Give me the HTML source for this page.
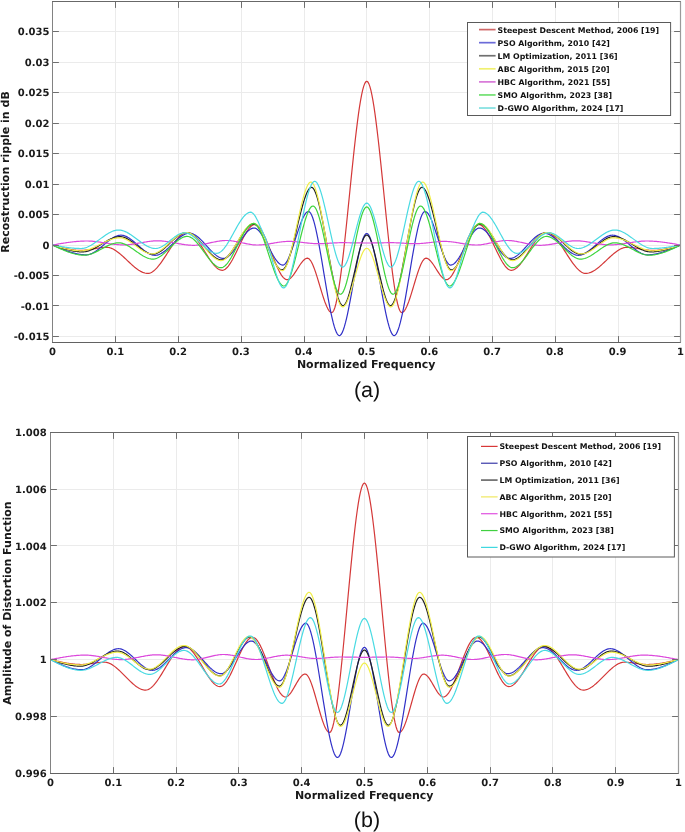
<!DOCTYPE html>
<html><head><meta charset="utf-8"><title>Reconstruction ripple and distortion function</title>
<style>
html,body{margin:0;padding:0;background:#fff;}
body{width:685px;height:832px;overflow:hidden;}
svg{display:block;}
text{text-rendering:geometricPrecision;}
.tk{font-family:'DejaVu Sans', 'Liberation Sans', sans-serif;font-weight:bold;font-size:10px;fill:#1a1a1a;}
.lb{font-family:'DejaVu Sans', 'Liberation Sans', sans-serif;font-weight:bold;font-size:11px;fill:#1a1a1a;}
.lg{font-family:'DejaVu Sans', 'Liberation Sans', sans-serif;font-weight:bold;font-size:7.8px;fill:#111;}
.cap{font-family:'Liberation Sans',Arial,sans-serif;font-size:21.5px;fill:#111;}
</style></head><body>
<svg width="685" height="832" viewBox="0 0 685 832">
<rect width="685" height="832" fill="#fff"/>
<path d="M115.5,1.5V342.5M178.5,1.5V342.5M241.5,1.5V342.5M304.5,1.5V342.5M366.5,1.5V342.5M429.5,1.5V342.5M492.5,1.5V342.5M555.5,1.5V342.5M618.5,1.5V342.5M52.5,31.5H680.5M52.5,62.5H680.5M52.5,92.5H680.5M52.5,123.5H680.5M52.5,153.5H680.5M52.5,184.5H680.5M52.5,214.5H680.5M52.5,245.5H680.5M52.5,275.5H680.5M52.5,305.5H680.5M52.5,336.5H680.5" stroke="#ebebeb" stroke-width="1" fill="none"/>
<path d="M52.50,245.00 L53.52,245.29 L54.54,245.58 L55.55,245.86 L56.57,246.15 L57.59,246.43 L58.61,246.71 L59.62,246.98 L60.64,247.25 L61.66,247.51 L62.68,247.77 L63.70,248.02 L64.71,248.26 L65.73,248.49 L66.75,248.71 L67.77,248.92 L68.79,249.12 L69.80,249.31 L70.82,249.49 L71.84,249.65 L72.86,249.80 L73.88,249.94 L74.89,250.05 L75.91,250.16 L76.93,250.24 L77.95,250.31 L78.96,250.36 L79.98,250.39 L81.00,250.40 L82.02,250.39 L83.04,250.34 L84.06,250.28 L85.08,250.19 L86.10,250.08 L87.12,249.95 L88.14,249.81 L89.16,249.65 L90.18,249.48 L91.20,249.31 L92.22,249.13 L93.24,248.94 L94.26,248.76 L95.28,248.57 L96.30,248.39 L97.32,248.22 L98.34,248.05 L99.36,247.89 L100.38,247.75 L101.40,247.62 L102.42,247.51 L103.44,247.42 L104.46,247.36 L105.48,247.31 L106.50,247.30 L107.51,247.35 L108.51,247.48 L109.52,247.70 L110.53,248.00 L111.54,248.37 L112.54,248.81 L113.55,249.32 L114.56,249.89 L115.57,250.52 L116.57,251.20 L117.58,251.93 L118.59,252.70 L119.60,253.51 L120.60,254.35 L121.61,255.22 L122.62,256.12 L123.62,257.04 L124.63,257.97 L125.64,258.92 L126.65,259.87 L127.65,260.83 L128.66,261.78 L129.67,262.73 L130.68,263.66 L131.68,264.58 L132.69,265.48 L133.70,266.35 L134.70,267.19 L135.71,268.00 L136.72,268.77 L137.73,269.50 L138.73,270.18 L139.74,270.81 L140.75,271.38 L141.76,271.89 L142.76,272.33 L143.77,272.70 L144.78,273.00 L145.79,273.22 L146.79,273.35 L147.80,273.40 L148.81,273.32 L149.82,273.09 L150.83,272.71 L151.84,272.20 L152.85,271.56 L153.86,270.79 L154.87,269.92 L155.88,268.94 L156.89,267.87 L157.90,266.71 L158.91,265.47 L159.92,264.17 L160.93,262.80 L161.94,261.37 L162.95,259.90 L163.96,258.40 L164.97,256.86 L165.98,255.30 L166.99,253.74 L168.01,252.16 L169.02,250.60 L170.03,249.04 L171.04,247.50 L172.05,246.00 L173.06,244.53 L174.07,243.10 L175.08,241.73 L176.09,240.43 L177.10,239.19 L178.11,238.03 L179.12,236.96 L180.13,235.98 L181.14,235.11 L182.15,234.34 L183.16,233.70 L184.17,233.19 L185.18,232.81 L186.19,232.58 L187.20,232.50 L188.20,232.59 L189.20,232.86 L190.20,233.29 L191.20,233.87 L192.20,234.59 L193.20,235.45 L194.20,236.43 L195.20,237.52 L196.20,238.71 L197.20,239.99 L198.20,241.35 L199.20,242.78 L200.20,244.27 L201.20,245.81 L202.20,247.38 L203.20,248.98 L204.20,250.59 L205.20,252.21 L206.20,253.82 L207.20,255.42 L208.20,256.99 L209.20,258.53 L210.20,260.02 L211.20,261.45 L212.20,262.81 L213.20,264.09 L214.20,265.28 L215.20,266.37 L216.20,267.35 L217.20,268.21 L218.20,268.93 L219.20,269.51 L220.20,269.94 L221.20,270.21 L222.20,270.30 L223.22,270.17 L224.24,269.79 L225.27,269.17 L226.29,268.33 L227.31,267.29 L228.33,266.07 L229.35,264.68 L230.38,263.14 L231.40,261.47 L232.42,259.68 L233.44,257.78 L234.46,255.81 L235.48,253.77 L236.51,251.67 L237.53,249.54 L238.55,247.40 L239.57,245.26 L240.59,243.13 L241.62,241.03 L242.64,238.99 L243.66,237.02 L244.68,235.12 L245.70,233.33 L246.72,231.66 L247.75,230.12 L248.77,228.73 L249.79,227.51 L250.81,226.47 L251.83,225.63 L252.86,225.01 L253.88,224.63 L254.90,224.50 L255.91,224.66 L256.92,225.12 L257.93,225.86 L258.94,226.87 L259.95,228.12 L260.96,229.59 L261.97,231.27 L262.98,233.12 L263.98,235.14 L264.99,237.30 L266.00,239.58 L267.01,241.97 L268.02,244.43 L269.03,246.95 L270.04,249.52 L271.05,252.10 L272.06,254.68 L273.07,257.25 L274.08,259.77 L275.09,262.23 L276.10,264.62 L277.11,266.90 L278.12,269.06 L279.12,271.07 L280.13,272.93 L281.14,274.61 L282.15,276.08 L283.16,277.33 L284.17,278.34 L285.18,279.08 L286.19,279.54 L287.20,279.70 L288.21,279.54 L289.23,279.10 L290.25,278.39 L291.26,277.46 L292.27,276.34 L293.29,275.06 L294.31,273.64 L295.32,272.13 L296.33,270.56 L297.35,268.95 L298.37,267.34 L299.38,265.77 L300.39,264.26 L301.41,262.84 L302.43,261.56 L303.44,260.44 L304.45,259.51 L305.47,258.80 L306.49,258.36 L307.50,258.20 L308.51,258.48 L309.52,259.27 L310.54,260.54 L311.55,262.23 L312.56,264.30 L313.57,266.70 L314.59,269.38 L315.60,272.30 L316.61,275.41 L317.62,278.66 L318.64,282.01 L319.65,285.40 L320.66,288.79 L321.68,292.14 L322.69,295.39 L323.70,298.50 L324.71,301.42 L325.73,304.10 L326.74,306.50 L327.75,308.57 L328.76,310.26 L329.78,311.53 L330.79,312.32 L331.80,312.60 L332.83,312.01 L333.86,310.29 L334.88,307.52 L335.91,303.75 L336.94,299.06 L337.97,293.53 L339.00,287.22 L340.02,280.21 L341.05,272.56 L342.08,264.34 L343.11,255.63 L344.14,246.50 L345.16,237.01 L346.19,227.25 L347.22,217.26 L348.25,207.14 L349.27,196.95 L350.30,186.76 L351.33,176.64 L352.36,166.65 L353.39,156.89 L354.41,147.40 L355.44,138.27 L356.47,129.56 L357.50,121.34 L358.53,113.69 L359.55,106.68 L360.58,100.37 L361.61,94.84 L362.64,90.15 L363.67,86.38 L364.69,83.61 L365.72,81.89 L366.75,81.30 L367.78,81.89 L368.81,83.61 L369.83,86.38 L370.86,90.15 L371.89,94.84 L372.92,100.37 L373.95,106.68 L374.97,113.69 L376.00,121.34 L377.03,129.56 L378.06,138.27 L379.09,147.40 L380.11,156.89 L381.14,166.65 L382.17,176.64 L383.20,186.76 L384.23,196.95 L385.25,207.14 L386.28,217.26 L387.31,227.25 L388.34,237.01 L389.36,246.50 L390.39,255.63 L391.42,264.34 L392.45,272.56 L393.48,280.21 L394.50,287.22 L395.53,293.53 L396.56,299.06 L397.59,303.75 L398.62,307.52 L399.64,310.29 L400.67,312.01 L401.70,312.60 L402.71,312.32 L403.72,311.53 L404.74,310.26 L405.75,308.57 L406.76,306.50 L407.77,304.10 L408.79,301.42 L409.80,298.50 L410.81,295.39 L411.82,292.14 L412.84,288.79 L413.85,285.40 L414.86,282.01 L415.88,278.66 L416.89,275.41 L417.90,272.30 L418.91,269.38 L419.93,266.70 L420.94,264.30 L421.95,262.23 L422.96,260.54 L423.98,259.27 L424.99,258.48 L426.00,258.20 L427.01,258.36 L428.03,258.80 L429.05,259.51 L430.06,260.44 L431.07,261.56 L432.09,262.84 L433.11,264.26 L434.12,265.77 L435.13,267.34 L436.15,268.95 L437.17,270.56 L438.18,272.13 L439.19,273.64 L440.21,275.06 L441.23,276.34 L442.24,277.46 L443.25,278.39 L444.27,279.10 L445.29,279.54 L446.30,279.70 L447.31,279.54 L448.32,279.08 L449.33,278.34 L450.34,277.33 L451.35,276.08 L452.36,274.61 L453.37,272.93 L454.38,271.07 L455.38,269.06 L456.39,266.90 L457.40,264.62 L458.41,262.23 L459.42,259.77 L460.43,257.25 L461.44,254.68 L462.45,252.10 L463.46,249.52 L464.47,246.95 L465.48,244.43 L466.49,241.97 L467.50,239.58 L468.51,237.30 L469.52,235.14 L470.53,233.12 L471.53,231.27 L472.54,229.59 L473.55,228.12 L474.56,226.87 L475.57,225.86 L476.58,225.12 L477.59,224.66 L478.60,224.50 L479.62,224.63 L480.64,225.01 L481.67,225.63 L482.69,226.47 L483.71,227.51 L484.73,228.73 L485.75,230.12 L486.78,231.66 L487.80,233.33 L488.82,235.12 L489.84,237.02 L490.86,238.99 L491.88,241.03 L492.91,243.13 L493.93,245.26 L494.95,247.40 L495.97,249.54 L496.99,251.67 L498.02,253.77 L499.04,255.81 L500.06,257.78 L501.08,259.68 L502.10,261.47 L503.12,263.14 L504.15,264.68 L505.17,266.07 L506.19,267.29 L507.21,268.33 L508.23,269.17 L509.26,269.79 L510.28,270.17 L511.30,270.30 L512.33,270.20 L513.36,269.92 L514.39,269.47 L515.42,268.85 L516.45,268.09 L517.48,267.18 L518.51,266.15 L519.54,265.01 L520.56,263.76 L521.59,262.41 L522.62,260.99 L523.65,259.50 L524.68,257.95 L525.71,256.35 L526.74,254.72 L527.77,253.07 L528.80,251.40 L529.83,249.73 L530.86,248.08 L531.89,246.45 L532.92,244.85 L533.95,243.30 L534.98,241.81 L536.01,240.39 L537.04,239.04 L538.06,237.79 L539.09,236.65 L540.12,235.62 L541.15,234.71 L542.18,233.95 L543.21,233.33 L544.24,232.88 L545.27,232.60 L546.30,232.50 L547.31,232.58 L548.32,232.81 L549.33,233.19 L550.34,233.70 L551.35,234.34 L552.36,235.11 L553.37,235.98 L554.38,236.96 L555.39,238.03 L556.40,239.19 L557.41,240.43 L558.42,241.73 L559.43,243.10 L560.44,244.53 L561.45,246.00 L562.46,247.50 L563.47,249.04 L564.48,250.60 L565.49,252.16 L566.51,253.74 L567.52,255.30 L568.53,256.86 L569.54,258.40 L570.55,259.90 L571.56,261.37 L572.57,262.80 L573.58,264.17 L574.59,265.47 L575.60,266.71 L576.61,267.87 L577.62,268.94 L578.63,269.92 L579.64,270.79 L580.65,271.56 L581.66,272.20 L582.67,272.71 L583.68,273.09 L584.69,273.32 L585.70,273.40 L586.71,273.35 L587.71,273.22 L588.72,273.00 L589.73,272.70 L590.74,272.33 L591.74,271.89 L592.75,271.38 L593.76,270.81 L594.77,270.18 L595.77,269.50 L596.78,268.77 L597.79,268.00 L598.80,267.19 L599.80,266.35 L600.81,265.48 L601.82,264.58 L602.82,263.66 L603.83,262.73 L604.84,261.78 L605.85,260.83 L606.85,259.87 L607.86,258.92 L608.87,257.97 L609.88,257.04 L610.88,256.12 L611.89,255.22 L612.90,254.35 L613.90,253.51 L614.91,252.70 L615.92,251.93 L616.93,251.20 L617.93,250.52 L618.94,249.89 L619.95,249.32 L620.96,248.81 L621.96,248.37 L622.97,248.00 L623.98,247.70 L624.99,247.48 L625.99,247.35 L627.00,247.30 L628.02,247.31 L629.04,247.36 L630.06,247.42 L631.08,247.51 L632.10,247.62 L633.12,247.75 L634.14,247.89 L635.16,248.05 L636.18,248.22 L637.20,248.39 L638.22,248.57 L639.24,248.76 L640.26,248.94 L641.28,249.13 L642.30,249.31 L643.32,249.48 L644.34,249.65 L645.36,249.81 L646.38,249.95 L647.40,250.08 L648.42,250.19 L649.44,250.28 L650.46,250.34 L651.48,250.39 L652.50,250.40 L653.50,250.39 L654.51,250.36 L655.51,250.31 L656.51,250.24 L657.52,250.16 L658.52,250.05 L659.52,249.94 L660.53,249.80 L661.53,249.65 L662.54,249.49 L663.54,249.31 L664.54,249.12 L665.55,248.92 L666.55,248.71 L667.55,248.49 L668.56,248.26 L669.56,248.02 L670.56,247.77 L671.57,247.51 L672.57,247.25 L673.58,246.98 L674.58,246.71 L675.58,246.43 L676.59,246.15 L677.59,245.86 L678.59,245.58 L679.60,245.29 L680.60,245.00" stroke="#d43838" stroke-width="1.2" fill="none" stroke-linejoin="round"/>
<path d="M52.50,245.00 L53.52,245.45 L54.54,245.89 L55.56,246.33 L56.58,246.77 L57.61,247.21 L58.63,247.64 L59.65,248.07 L60.67,248.49 L61.69,248.91 L62.71,249.32 L63.73,249.72 L64.75,250.11 L65.78,250.49 L66.80,250.86 L67.82,251.22 L68.84,251.57 L69.86,251.90 L70.88,252.22 L71.90,252.53 L72.92,252.82 L73.95,253.09 L74.97,253.35 L75.99,253.59 L77.01,253.81 L78.03,254.01 L79.05,254.19 L80.07,254.34 L81.09,254.48 L82.12,254.59 L83.14,254.68 L84.16,254.75 L85.18,254.79 L86.20,254.80 L87.22,254.75 L88.25,254.60 L89.27,254.37 L90.29,254.05 L91.32,253.65 L92.34,253.18 L93.36,252.65 L94.39,252.06 L95.41,251.41 L96.44,250.71 L97.46,249.97 L98.48,249.20 L99.51,248.39 L100.53,247.57 L101.55,246.72 L102.58,245.86 L103.60,245.00 L104.62,244.14 L105.65,243.28 L106.67,242.43 L107.69,241.61 L108.72,240.80 L109.74,240.03 L110.76,239.29 L111.79,238.59 L112.81,237.94 L113.84,237.35 L114.86,236.82 L115.88,236.35 L116.91,235.95 L117.93,235.63 L118.95,235.40 L119.98,235.25 L121.00,235.20 L122.00,235.25 L123.00,235.40 L124.00,235.64 L125.00,235.97 L126.00,236.38 L127.00,236.86 L128.00,237.41 L129.00,238.01 L130.00,238.68 L131.00,239.39 L132.00,240.15 L133.00,240.94 L134.00,241.77 L135.00,242.62 L136.00,243.48 L137.00,244.36 L138.00,245.25 L139.00,246.14 L140.00,247.02 L141.00,247.88 L142.00,248.73 L143.00,249.56 L144.00,250.35 L145.00,251.11 L146.00,251.82 L147.00,252.49 L148.00,253.09 L149.00,253.64 L150.00,254.12 L151.00,254.53 L152.00,254.86 L153.00,255.10 L154.00,255.25 L155.00,255.30 L156.01,255.24 L157.03,255.08 L158.04,254.81 L159.06,254.45 L160.07,254.01 L161.09,253.48 L162.10,252.88 L163.12,252.21 L164.13,251.47 L165.15,250.69 L166.16,249.86 L167.18,248.98 L168.19,248.08 L169.21,247.14 L170.22,246.19 L171.24,245.22 L172.25,244.25 L173.26,243.28 L174.28,242.31 L175.29,241.36 L176.31,240.42 L177.32,239.52 L178.34,238.64 L179.35,237.81 L180.37,237.03 L181.38,236.29 L182.40,235.62 L183.41,235.02 L184.43,234.49 L185.44,234.05 L186.46,233.69 L187.47,233.42 L188.49,233.26 L189.50,233.20 L190.50,233.26 L191.51,233.45 L192.51,233.75 L193.51,234.16 L194.51,234.67 L195.52,235.28 L196.52,235.96 L197.52,236.73 L198.53,237.56 L199.53,238.46 L200.53,239.41 L201.54,240.40 L202.54,241.44 L203.54,242.50 L204.54,243.59 L205.55,244.69 L206.55,245.80 L207.55,246.91 L208.56,248.01 L209.56,249.10 L210.56,250.16 L211.56,251.20 L212.57,252.19 L213.57,253.14 L214.57,254.04 L215.58,254.87 L216.58,255.64 L217.58,256.32 L218.59,256.93 L219.59,257.44 L220.59,257.85 L221.59,258.15 L222.60,258.34 L223.60,258.40 L224.61,258.30 L225.63,258.01 L226.64,257.55 L227.65,256.92 L228.67,256.15 L229.68,255.24 L230.69,254.21 L231.71,253.07 L232.72,251.83 L233.73,250.52 L234.75,249.14 L235.76,247.70 L236.77,246.22 L237.79,244.72 L238.80,243.20 L239.81,241.68 L240.83,240.18 L241.84,238.70 L242.85,237.26 L243.87,235.88 L244.88,234.57 L245.89,233.33 L246.91,232.19 L247.92,231.16 L248.93,230.25 L249.95,229.48 L250.96,228.85 L251.97,228.39 L252.99,228.10 L254.00,228.00 L255.03,228.14 L256.06,228.54 L257.09,229.19 L258.11,230.06 L259.14,231.13 L260.17,232.38 L261.20,233.80 L262.23,235.36 L263.26,237.04 L264.29,238.82 L265.31,240.68 L266.34,242.60 L267.37,244.57 L268.40,246.55 L269.43,248.53 L270.46,250.50 L271.49,252.42 L272.51,254.28 L273.54,256.06 L274.57,257.74 L275.60,259.30 L276.63,260.72 L277.66,261.97 L278.69,263.04 L279.71,263.91 L280.74,264.56 L281.77,264.96 L282.80,265.10 L283.83,264.85 L284.86,264.13 L285.88,262.97 L286.91,261.42 L287.94,259.53 L288.97,257.32 L290.00,254.85 L291.02,252.15 L292.05,249.26 L293.08,246.23 L294.11,243.10 L295.14,239.91 L296.16,236.69 L297.19,233.50 L298.22,230.37 L299.25,227.34 L300.28,224.45 L301.30,221.75 L302.33,219.28 L303.36,217.07 L304.39,215.18 L305.42,213.63 L306.44,212.47 L307.47,211.75 L308.50,211.50 L309.53,211.90 L310.56,213.08 L311.59,214.97 L312.62,217.53 L313.65,220.69 L314.68,224.41 L315.71,228.62 L316.74,233.27 L317.77,238.31 L318.80,243.67 L319.83,249.32 L320.86,255.18 L321.89,261.21 L322.92,267.35 L323.95,273.55 L324.98,279.75 L326.01,285.89 L327.04,291.92 L328.07,297.78 L329.10,303.43 L330.13,308.79 L331.16,313.83 L332.19,318.48 L333.22,322.69 L334.25,326.41 L335.28,329.57 L336.31,332.13 L337.34,334.02 L338.37,335.20 L339.40,335.60 L340.41,335.19 L341.43,334.00 L342.44,332.10 L343.45,329.54 L344.46,326.39 L345.48,322.71 L346.49,318.57 L347.50,314.02 L348.52,309.13 L349.53,303.96 L350.54,298.57 L351.56,293.02 L352.57,287.38 L353.58,281.72 L354.59,276.08 L355.61,270.53 L356.62,265.14 L357.63,259.97 L358.65,255.08 L359.66,250.53 L360.67,246.39 L361.69,242.71 L362.70,239.56 L363.71,237.00 L364.72,235.10 L365.74,233.91 L366.75,233.50 L367.76,233.91 L368.78,235.10 L369.79,237.00 L370.80,239.56 L371.81,242.71 L372.83,246.39 L373.84,250.53 L374.85,255.08 L375.87,259.97 L376.88,265.14 L377.89,270.53 L378.91,276.08 L379.92,281.72 L380.93,287.38 L381.94,293.02 L382.96,298.57 L383.97,303.96 L384.98,309.13 L386.00,314.02 L387.01,318.57 L388.02,322.71 L389.04,326.39 L390.05,329.54 L391.06,332.10 L392.07,334.00 L393.09,335.19 L394.10,335.60 L395.13,335.20 L396.16,334.02 L397.19,332.13 L398.22,329.57 L399.25,326.41 L400.28,322.69 L401.31,318.48 L402.34,313.83 L403.37,308.79 L404.40,303.43 L405.43,297.78 L406.46,291.92 L407.49,285.89 L408.52,279.75 L409.55,273.55 L410.58,267.35 L411.61,261.21 L412.64,255.18 L413.67,249.32 L414.70,243.67 L415.73,238.31 L416.76,233.27 L417.79,228.62 L418.82,224.41 L419.85,220.69 L420.88,217.53 L421.91,214.97 L422.94,213.08 L423.97,211.90 L425.00,211.50 L426.03,211.75 L427.06,212.47 L428.08,213.63 L429.11,215.18 L430.14,217.07 L431.17,219.28 L432.20,221.75 L433.22,224.45 L434.25,227.34 L435.28,230.37 L436.31,233.50 L437.34,236.69 L438.36,239.91 L439.39,243.10 L440.42,246.23 L441.45,249.26 L442.48,252.15 L443.50,254.85 L444.53,257.32 L445.56,259.53 L446.59,261.42 L447.62,262.97 L448.64,264.13 L449.67,264.85 L450.70,265.10 L451.73,264.96 L452.76,264.56 L453.79,263.91 L454.81,263.04 L455.84,261.97 L456.87,260.72 L457.90,259.30 L458.93,257.74 L459.96,256.06 L460.99,254.28 L462.01,252.42 L463.04,250.50 L464.07,248.53 L465.10,246.55 L466.13,244.57 L467.16,242.60 L468.19,240.68 L469.21,238.82 L470.24,237.04 L471.27,235.36 L472.30,233.80 L473.33,232.38 L474.36,231.13 L475.39,230.06 L476.41,229.19 L477.44,228.54 L478.47,228.14 L479.50,228.00 L480.51,228.10 L481.53,228.39 L482.54,228.85 L483.55,229.48 L484.57,230.25 L485.58,231.16 L486.59,232.19 L487.61,233.33 L488.62,234.57 L489.63,235.88 L490.65,237.26 L491.66,238.70 L492.67,240.18 L493.69,241.68 L494.70,243.20 L495.71,244.72 L496.73,246.22 L497.74,247.70 L498.75,249.14 L499.77,250.52 L500.78,251.83 L501.79,253.07 L502.81,254.21 L503.82,255.24 L504.83,256.15 L505.85,256.92 L506.86,257.55 L507.87,258.01 L508.89,258.30 L509.90,258.40 L510.90,258.34 L511.91,258.15 L512.91,257.85 L513.91,257.44 L514.91,256.93 L515.92,256.32 L516.92,255.64 L517.92,254.87 L518.93,254.04 L519.93,253.14 L520.93,252.19 L521.94,251.20 L522.94,250.16 L523.94,249.10 L524.94,248.01 L525.95,246.91 L526.95,245.80 L527.95,244.69 L528.96,243.59 L529.96,242.50 L530.96,241.44 L531.96,240.40 L532.97,239.41 L533.97,238.46 L534.97,237.56 L535.98,236.73 L536.98,235.96 L537.98,235.28 L538.99,234.67 L539.99,234.16 L540.99,233.75 L541.99,233.45 L543.00,233.26 L544.00,233.20 L545.01,233.26 L546.03,233.42 L547.04,233.69 L548.06,234.05 L549.07,234.49 L550.09,235.02 L551.10,235.62 L552.12,236.29 L553.13,237.03 L554.15,237.81 L555.16,238.64 L556.18,239.52 L557.19,240.42 L558.21,241.36 L559.22,242.31 L560.24,243.28 L561.25,244.25 L562.26,245.22 L563.28,246.19 L564.29,247.14 L565.31,248.08 L566.32,248.98 L567.34,249.86 L568.35,250.69 L569.37,251.47 L570.38,252.21 L571.40,252.88 L572.41,253.48 L573.43,254.01 L574.44,254.45 L575.46,254.81 L576.47,255.08 L577.49,255.24 L578.50,255.30 L579.50,255.25 L580.50,255.10 L581.50,254.86 L582.50,254.53 L583.50,254.12 L584.50,253.64 L585.50,253.09 L586.50,252.49 L587.50,251.82 L588.50,251.11 L589.50,250.35 L590.50,249.56 L591.50,248.73 L592.50,247.88 L593.50,247.02 L594.50,246.14 L595.50,245.25 L596.50,244.36 L597.50,243.48 L598.50,242.62 L599.50,241.77 L600.50,240.94 L601.50,240.15 L602.50,239.39 L603.50,238.68 L604.50,238.01 L605.50,237.41 L606.50,236.86 L607.50,236.38 L608.50,235.97 L609.50,235.64 L610.50,235.40 L611.50,235.25 L612.50,235.20 L613.52,235.25 L614.55,235.40 L615.57,235.63 L616.59,235.95 L617.62,236.35 L618.64,236.82 L619.66,237.35 L620.69,237.94 L621.71,238.59 L622.74,239.29 L623.76,240.03 L624.78,240.80 L625.81,241.61 L626.83,242.43 L627.85,243.28 L628.88,244.14 L629.90,245.00 L630.92,245.86 L631.95,246.72 L632.97,247.57 L633.99,248.39 L635.02,249.20 L636.04,249.97 L637.06,250.71 L638.09,251.41 L639.11,252.06 L640.14,252.65 L641.16,253.18 L642.18,253.65 L643.21,254.05 L644.23,254.37 L645.25,254.60 L646.28,254.75 L647.30,254.80 L648.31,254.79 L649.32,254.75 L650.33,254.68 L651.34,254.59 L652.35,254.48 L653.35,254.34 L654.36,254.19 L655.37,254.01 L656.38,253.81 L657.39,253.59 L658.40,253.35 L659.41,253.09 L660.42,252.82 L661.43,252.53 L662.44,252.22 L663.45,251.90 L664.45,251.57 L665.46,251.22 L666.47,250.86 L667.48,250.49 L668.49,250.11 L669.50,249.72 L670.51,249.32 L671.52,248.91 L672.53,248.49 L673.54,248.07 L674.55,247.64 L675.55,247.21 L676.56,246.77 L677.57,246.33 L678.58,245.89 L679.59,245.45 L680.60,245.00" stroke="#3030c8" stroke-width="1.2" fill="none" stroke-linejoin="round"/>
<path d="M52.50,245.00 L53.51,245.34 L54.51,245.69 L55.52,246.03 L56.53,246.37 L57.53,246.71 L58.54,247.04 L59.55,247.37 L60.55,247.69 L61.56,248.01 L62.57,248.32 L63.57,248.62 L64.58,248.92 L65.59,249.20 L66.59,249.48 L67.60,249.74 L68.61,250.00 L69.61,250.24 L70.62,250.46 L71.63,250.68 L72.63,250.88 L73.64,251.06 L74.65,251.23 L75.65,251.38 L76.66,251.51 L77.67,251.63 L78.67,251.72 L79.68,251.80 L80.69,251.86 L81.69,251.89 L82.70,251.90 L83.71,251.87 L84.72,251.77 L85.72,251.61 L86.73,251.40 L87.74,251.14 L88.75,250.82 L89.76,250.46 L90.76,250.06 L91.77,249.62 L92.78,249.15 L93.79,248.65 L94.80,248.12 L95.81,247.56 L96.81,246.99 L97.82,246.40 L98.83,245.79 L99.84,245.18 L100.85,244.56 L101.85,243.94 L102.86,243.32 L103.87,242.71 L104.88,242.10 L105.89,241.51 L106.89,240.94 L107.90,240.38 L108.91,239.85 L109.92,239.35 L110.93,238.88 L111.94,238.44 L112.94,238.04 L113.95,237.68 L114.96,237.36 L115.97,237.10 L116.98,236.89 L117.98,236.73 L118.99,236.63 L120.00,236.60 L121.00,236.65 L122.00,236.79 L123.00,237.01 L124.00,237.31 L125.00,237.68 L126.00,238.13 L127.00,238.63 L128.00,239.19 L129.00,239.79 L130.00,240.45 L131.00,241.14 L132.00,241.86 L133.00,242.61 L134.00,243.38 L135.00,244.16 L136.00,244.95 L137.00,245.75 L138.00,246.54 L139.00,247.32 L140.00,248.09 L141.00,248.84 L142.00,249.56 L143.00,250.25 L144.00,250.91 L145.00,251.51 L146.00,252.07 L147.00,252.57 L148.00,253.02 L149.00,253.39 L150.00,253.69 L151.00,253.91 L152.00,254.05 L153.00,254.10 L154.02,254.04 L155.03,253.87 L156.05,253.60 L157.06,253.22 L158.08,252.76 L159.09,252.22 L160.11,251.60 L161.12,250.91 L162.14,250.16 L163.15,249.35 L164.17,248.50 L165.18,247.61 L166.20,246.68 L167.21,245.74 L168.23,244.77 L169.24,243.79 L170.26,242.81 L171.27,241.83 L172.29,240.86 L173.30,239.92 L174.32,238.99 L175.33,238.10 L176.35,237.25 L177.36,236.44 L178.38,235.69 L179.39,235.00 L180.41,234.38 L181.42,233.84 L182.44,233.38 L183.45,233.00 L184.47,232.73 L185.48,232.56 L186.50,232.50 L187.50,232.57 L188.50,232.76 L189.50,233.07 L190.50,233.49 L191.50,234.01 L192.50,234.63 L193.50,235.34 L194.50,236.13 L195.50,236.99 L196.50,237.91 L197.50,238.89 L198.50,239.93 L199.50,241.00 L200.50,242.11 L201.50,243.24 L202.50,244.40 L203.50,245.57 L204.50,246.73 L205.50,247.90 L206.50,249.06 L207.50,250.19 L208.50,251.30 L209.50,252.37 L210.50,253.41 L211.50,254.39 L212.50,255.31 L213.50,256.17 L214.50,256.96 L215.50,257.67 L216.50,258.29 L217.50,258.81 L218.50,259.23 L219.50,259.54 L220.50,259.73 L221.50,259.80 L222.51,259.70 L223.51,259.40 L224.52,258.92 L225.53,258.26 L226.53,257.45 L227.54,256.50 L228.54,255.41 L229.55,254.21 L230.56,252.90 L231.56,251.50 L232.57,250.02 L233.57,248.47 L234.58,246.88 L235.59,245.24 L236.59,243.58 L237.60,241.90 L238.61,240.22 L239.61,238.56 L240.62,236.92 L241.62,235.33 L242.63,233.78 L243.64,232.30 L244.64,230.90 L245.65,229.59 L246.66,228.39 L247.66,227.30 L248.67,226.35 L249.67,225.54 L250.68,224.88 L251.69,224.40 L252.69,224.10 L253.70,224.00 L254.71,224.17 L255.73,224.67 L256.74,225.47 L257.76,226.54 L258.77,227.87 L259.79,229.42 L260.80,231.17 L261.81,233.10 L262.83,235.18 L263.84,237.38 L264.86,239.69 L265.87,242.07 L266.89,244.50 L267.90,246.95 L268.91,249.40 L269.93,251.83 L270.94,254.21 L271.96,256.52 L272.97,258.72 L273.99,260.80 L275.00,262.73 L276.01,264.48 L277.03,266.03 L278.04,267.36 L279.06,268.43 L280.07,269.23 L281.09,269.73 L282.10,269.90 L283.11,269.61 L284.13,268.78 L285.14,267.43 L286.16,265.62 L287.17,263.38 L288.18,260.76 L289.20,257.79 L290.21,254.51 L291.22,250.97 L292.24,247.21 L293.25,243.26 L294.27,239.18 L295.28,234.99 L296.29,230.74 L297.31,226.46 L298.32,222.21 L299.33,218.02 L300.35,213.94 L301.36,209.99 L302.38,206.23 L303.39,202.69 L304.40,199.41 L305.42,196.44 L306.43,193.82 L307.44,191.58 L308.46,189.77 L309.47,188.42 L310.49,187.59 L311.50,187.30 L312.52,187.66 L313.53,188.71 L314.55,190.41 L315.56,192.71 L316.58,195.55 L317.60,198.89 L318.61,202.68 L319.63,206.89 L320.65,211.44 L321.66,216.31 L322.68,221.44 L323.69,226.79 L324.71,232.30 L325.73,237.93 L326.74,243.64 L327.76,249.36 L328.77,255.07 L329.79,260.70 L330.81,266.21 L331.82,271.56 L332.84,276.69 L333.85,281.56 L334.87,286.11 L335.89,290.32 L336.90,294.11 L337.92,297.45 L338.94,300.29 L339.95,302.59 L340.97,304.29 L341.98,305.34 L343.00,305.70 L344.03,305.31 L345.07,304.19 L346.10,302.41 L347.13,300.03 L348.16,297.13 L349.20,293.78 L350.23,290.04 L351.26,285.99 L352.29,281.70 L353.33,277.23 L354.36,272.65 L355.39,268.05 L356.42,263.47 L357.46,259.00 L358.49,254.71 L359.52,250.66 L360.55,246.92 L361.59,243.57 L362.62,240.67 L363.65,238.29 L364.68,236.51 L365.72,235.39 L366.75,235.00 L367.78,235.39 L368.82,236.51 L369.85,238.29 L370.88,240.67 L371.91,243.57 L372.95,246.92 L373.98,250.66 L375.01,254.71 L376.04,259.00 L377.08,263.47 L378.11,268.05 L379.14,272.65 L380.17,277.23 L381.21,281.70 L382.24,285.99 L383.27,290.04 L384.30,293.78 L385.34,297.13 L386.37,300.03 L387.40,302.41 L388.43,304.19 L389.47,305.31 L390.50,305.70 L391.52,305.34 L392.53,304.29 L393.55,302.59 L394.56,300.29 L395.58,297.45 L396.60,294.11 L397.61,290.32 L398.63,286.11 L399.65,281.56 L400.66,276.69 L401.68,271.56 L402.69,266.21 L403.71,260.70 L404.73,255.07 L405.74,249.36 L406.76,243.64 L407.77,237.93 L408.79,232.30 L409.81,226.79 L410.82,221.44 L411.84,216.31 L412.85,211.44 L413.87,206.89 L414.89,202.68 L415.90,198.89 L416.92,195.55 L417.94,192.71 L418.95,190.41 L419.97,188.71 L420.98,187.66 L422.00,187.30 L423.01,187.59 L424.03,188.42 L425.04,189.77 L426.06,191.58 L427.07,193.82 L428.08,196.44 L429.10,199.41 L430.11,202.69 L431.12,206.23 L432.14,209.99 L433.15,213.94 L434.17,218.02 L435.18,222.21 L436.19,226.46 L437.21,230.74 L438.22,234.99 L439.23,239.18 L440.25,243.26 L441.26,247.21 L442.28,250.97 L443.29,254.51 L444.30,257.79 L445.32,260.76 L446.33,263.38 L447.34,265.62 L448.36,267.43 L449.37,268.78 L450.39,269.61 L451.40,269.90 L452.41,269.73 L453.43,269.23 L454.44,268.43 L455.46,267.36 L456.47,266.03 L457.49,264.48 L458.50,262.73 L459.51,260.80 L460.53,258.72 L461.54,256.52 L462.56,254.21 L463.57,251.83 L464.59,249.40 L465.60,246.95 L466.61,244.50 L467.63,242.07 L468.64,239.69 L469.66,237.38 L470.67,235.18 L471.69,233.10 L472.70,231.17 L473.71,229.42 L474.73,227.87 L475.74,226.54 L476.76,225.47 L477.77,224.67 L478.79,224.17 L479.80,224.00 L480.81,224.10 L481.81,224.40 L482.82,224.88 L483.82,225.54 L484.83,226.35 L485.84,227.30 L486.84,228.39 L487.85,229.59 L488.86,230.90 L489.86,232.30 L490.87,233.78 L491.88,235.33 L492.88,236.92 L493.89,238.56 L494.89,240.22 L495.90,241.90 L496.91,243.58 L497.91,245.24 L498.92,246.88 L499.93,248.47 L500.93,250.02 L501.94,251.50 L502.94,252.90 L503.95,254.21 L504.96,255.41 L505.96,256.50 L506.97,257.45 L507.98,258.26 L508.98,258.92 L509.99,259.40 L510.99,259.70 L512.00,259.80 L513.00,259.73 L514.00,259.54 L515.00,259.23 L516.00,258.81 L517.00,258.29 L518.00,257.67 L519.00,256.96 L520.00,256.17 L521.00,255.31 L522.00,254.39 L523.00,253.41 L524.00,252.37 L525.00,251.30 L526.00,250.19 L527.00,249.06 L528.00,247.90 L529.00,246.73 L530.00,245.57 L531.00,244.40 L532.00,243.24 L533.00,242.11 L534.00,241.00 L535.00,239.93 L536.00,238.89 L537.00,237.91 L538.00,236.99 L539.00,236.13 L540.00,235.34 L541.00,234.63 L542.00,234.01 L543.00,233.49 L544.00,233.07 L545.00,232.76 L546.00,232.57 L547.00,232.50 L548.02,232.56 L549.03,232.73 L550.05,233.00 L551.06,233.38 L552.08,233.84 L553.09,234.38 L554.11,235.00 L555.12,235.69 L556.14,236.44 L557.15,237.25 L558.17,238.10 L559.18,238.99 L560.20,239.92 L561.21,240.86 L562.23,241.83 L563.24,242.81 L564.26,243.79 L565.27,244.77 L566.29,245.74 L567.30,246.68 L568.32,247.61 L569.33,248.50 L570.35,249.35 L571.36,250.16 L572.38,250.91 L573.39,251.60 L574.41,252.22 L575.42,252.76 L576.44,253.22 L577.45,253.60 L578.47,253.87 L579.48,254.04 L580.50,254.10 L581.50,254.05 L582.50,253.91 L583.50,253.69 L584.50,253.39 L585.50,253.02 L586.50,252.57 L587.50,252.07 L588.50,251.51 L589.50,250.91 L590.50,250.25 L591.50,249.56 L592.50,248.84 L593.50,248.09 L594.50,247.32 L595.50,246.54 L596.50,245.75 L597.50,244.95 L598.50,244.16 L599.50,243.38 L600.50,242.61 L601.50,241.86 L602.50,241.14 L603.50,240.45 L604.50,239.79 L605.50,239.19 L606.50,238.63 L607.50,238.13 L608.50,237.68 L609.50,237.31 L610.50,237.01 L611.50,236.79 L612.50,236.65 L613.50,236.60 L614.51,236.63 L615.52,236.73 L616.52,236.89 L617.53,237.10 L618.54,237.36 L619.55,237.68 L620.56,238.04 L621.56,238.44 L622.57,238.88 L623.58,239.35 L624.59,239.85 L625.60,240.38 L626.61,240.94 L627.61,241.51 L628.62,242.10 L629.63,242.71 L630.64,243.32 L631.65,243.94 L632.65,244.56 L633.66,245.18 L634.67,245.79 L635.68,246.40 L636.69,246.99 L637.69,247.56 L638.70,248.12 L639.71,248.65 L640.72,249.15 L641.73,249.62 L642.74,250.06 L643.74,250.46 L644.75,250.82 L645.76,251.14 L646.77,251.40 L647.78,251.61 L648.78,251.77 L649.79,251.87 L650.80,251.90 L651.83,251.89 L652.86,251.85 L653.88,251.79 L654.91,251.71 L655.94,251.61 L656.97,251.49 L657.99,251.35 L659.02,251.18 L660.05,251.01 L661.08,250.81 L662.10,250.60 L663.13,250.37 L664.16,250.13 L665.19,249.88 L666.21,249.61 L667.24,249.33 L668.27,249.04 L669.30,248.74 L670.32,248.43 L671.35,248.11 L672.38,247.78 L673.41,247.45 L674.43,247.11 L675.46,246.77 L676.49,246.42 L677.52,246.07 L678.54,245.71 L679.57,245.36 L680.60,245.00" stroke="#222222" stroke-width="1.2" fill="none" stroke-linejoin="round"/>
<path d="M52.50,245.00 L53.51,245.31 L54.53,245.62 L55.54,245.93 L56.56,246.23 L57.57,246.54 L58.59,246.84 L59.60,247.13 L60.61,247.42 L61.63,247.70 L62.64,247.98 L63.66,248.24 L64.67,248.50 L65.69,248.75 L66.70,248.99 L67.71,249.21 L68.73,249.43 L69.74,249.63 L70.76,249.82 L71.77,250.00 L72.79,250.16 L73.80,250.30 L74.81,250.43 L75.83,250.54 L76.84,250.63 L77.86,250.70 L78.87,250.76 L79.89,250.79 L80.90,250.80 L81.92,250.77 L82.94,250.70 L83.96,250.57 L84.98,250.40 L86.01,250.18 L87.03,249.93 L88.05,249.64 L89.07,249.31 L90.09,248.96 L91.11,248.57 L92.13,248.16 L93.15,247.73 L94.17,247.28 L95.19,246.81 L96.22,246.32 L97.24,245.83 L98.26,245.32 L99.28,244.81 L100.30,244.30 L101.32,243.79 L102.34,243.28 L103.36,242.77 L104.38,242.28 L105.41,241.79 L106.43,241.32 L107.45,240.87 L108.47,240.44 L109.49,240.03 L110.51,239.64 L111.53,239.29 L112.55,238.96 L113.57,238.67 L114.59,238.42 L115.62,238.20 L116.64,238.03 L117.66,237.90 L118.68,237.83 L119.70,237.80 L120.70,237.85 L121.71,237.98 L122.71,238.20 L123.71,238.49 L124.72,238.85 L125.72,239.28 L126.72,239.76 L127.73,240.30 L128.73,240.88 L129.73,241.51 L130.73,242.17 L131.74,242.86 L132.74,243.58 L133.74,244.31 L134.75,245.05 L135.75,245.80 L136.75,246.55 L137.76,247.29 L138.76,248.02 L139.76,248.74 L140.77,249.43 L141.77,250.09 L142.77,250.72 L143.78,251.30 L144.78,251.84 L145.78,252.32 L146.78,252.75 L147.79,253.11 L148.79,253.40 L149.79,253.62 L150.80,253.75 L151.80,253.80 L152.82,253.75 L153.84,253.59 L154.86,253.33 L155.88,252.98 L156.90,252.55 L157.92,252.04 L158.94,251.46 L159.96,250.82 L160.99,250.11 L162.01,249.36 L163.03,248.55 L164.05,247.71 L165.07,246.84 L166.09,245.94 L167.11,245.02 L168.13,244.09 L169.15,243.15 L170.17,242.21 L171.19,241.28 L172.21,240.36 L173.23,239.46 L174.25,238.59 L175.27,237.75 L176.29,236.94 L177.31,236.19 L178.34,235.48 L179.36,234.84 L180.38,234.26 L181.40,233.75 L182.42,233.32 L183.44,232.97 L184.46,232.71 L185.48,232.55 L186.50,232.50 L187.51,232.57 L188.53,232.78 L189.54,233.12 L190.56,233.58 L191.57,234.14 L192.59,234.82 L193.60,235.58 L194.62,236.44 L195.63,237.36 L196.65,238.36 L197.66,239.42 L198.68,240.53 L199.69,241.68 L200.71,242.87 L201.72,244.08 L202.74,245.31 L203.75,246.55 L204.76,247.79 L205.78,249.02 L206.79,250.23 L207.81,251.42 L208.82,252.57 L209.84,253.68 L210.85,254.74 L211.87,255.74 L212.88,256.66 L213.90,257.52 L214.91,258.28 L215.93,258.96 L216.94,259.52 L217.96,259.98 L218.97,260.32 L219.99,260.53 L221.00,260.60 L222.02,260.49 L223.04,260.18 L224.07,259.68 L225.09,259.00 L226.11,258.16 L227.13,257.17 L228.15,256.04 L229.18,254.79 L230.20,253.43 L231.22,251.97 L232.24,250.43 L233.26,248.83 L234.28,247.17 L235.31,245.47 L236.33,243.74 L237.35,242.00 L238.37,240.26 L239.39,238.53 L240.42,236.83 L241.44,235.17 L242.46,233.57 L243.48,232.03 L244.50,230.57 L245.52,229.21 L246.55,227.96 L247.57,226.83 L248.59,225.84 L249.61,225.00 L250.63,224.32 L251.66,223.82 L252.68,223.51 L253.70,223.40 L254.72,223.58 L255.75,224.09 L256.77,224.91 L257.80,226.02 L258.82,227.39 L259.85,228.98 L260.88,230.79 L261.90,232.78 L262.93,234.92 L263.95,237.19 L264.97,239.56 L266.00,242.02 L267.02,244.52 L268.05,247.05 L269.07,249.58 L270.10,252.08 L271.12,254.54 L272.15,256.91 L273.17,259.18 L274.20,261.32 L275.22,263.31 L276.25,265.12 L277.27,266.71 L278.30,268.08 L279.32,269.19 L280.35,270.01 L281.38,270.52 L282.40,270.70 L283.42,270.37 L284.44,269.41 L285.45,267.86 L286.47,265.79 L287.49,263.22 L288.51,260.23 L289.52,256.84 L290.54,253.12 L291.56,249.10 L292.58,244.84 L293.60,240.39 L294.61,235.79 L295.63,231.09 L296.65,226.35 L297.67,221.61 L298.69,216.91 L299.70,212.31 L300.72,207.86 L301.74,203.60 L302.76,199.58 L303.77,195.86 L304.79,192.47 L305.81,189.48 L306.83,186.91 L307.85,184.84 L308.86,183.29 L309.88,182.33 L310.90,182.00 L311.93,182.38 L312.95,183.49 L313.98,185.28 L315.00,187.70 L316.03,190.70 L317.05,194.23 L318.08,198.23 L319.11,202.66 L320.13,207.47 L321.16,212.61 L322.18,218.02 L323.21,223.66 L324.24,229.47 L325.26,235.41 L326.29,241.43 L327.31,247.47 L328.34,253.49 L329.36,259.43 L330.39,265.24 L331.42,270.88 L332.44,276.29 L333.47,281.43 L334.49,286.24 L335.52,290.67 L336.55,294.67 L337.57,298.20 L338.60,301.20 L339.62,303.62 L340.65,305.41 L341.67,306.52 L342.70,306.90 L343.70,306.60 L344.70,305.75 L345.71,304.38 L346.71,302.55 L347.71,300.32 L348.71,297.73 L349.71,294.83 L350.72,291.68 L351.72,288.33 L352.72,284.82 L353.72,281.21 L354.73,277.55 L355.73,273.89 L356.73,270.28 L357.73,266.77 L358.73,263.42 L359.74,260.27 L360.74,257.37 L361.74,254.78 L362.74,252.55 L363.74,250.72 L364.75,249.35 L365.75,248.50 L366.75,248.20 L367.75,248.50 L368.75,249.35 L369.76,250.72 L370.76,252.55 L371.76,254.78 L372.76,257.37 L373.76,260.27 L374.77,263.42 L375.77,266.77 L376.77,270.28 L377.77,273.89 L378.77,277.55 L379.78,281.21 L380.78,284.82 L381.78,288.33 L382.78,291.68 L383.79,294.83 L384.79,297.73 L385.79,300.32 L386.79,302.55 L387.79,304.38 L388.80,305.75 L389.80,306.60 L390.80,306.90 L391.83,306.52 L392.85,305.41 L393.88,303.62 L394.90,301.20 L395.93,298.20 L396.95,294.67 L397.98,290.67 L399.01,286.24 L400.03,281.43 L401.06,276.29 L402.08,270.88 L403.11,265.24 L404.14,259.43 L405.16,253.49 L406.19,247.47 L407.21,241.43 L408.24,235.41 L409.26,229.47 L410.29,223.66 L411.32,218.02 L412.34,212.61 L413.37,207.47 L414.39,202.66 L415.42,198.23 L416.45,194.23 L417.47,190.70 L418.50,187.70 L419.52,185.28 L420.55,183.49 L421.57,182.38 L422.60,182.00 L423.62,182.33 L424.64,183.29 L425.65,184.84 L426.67,186.91 L427.69,189.48 L428.71,192.47 L429.73,195.86 L430.74,199.58 L431.76,203.60 L432.78,207.86 L433.80,212.31 L434.81,216.91 L435.83,221.61 L436.85,226.35 L437.87,231.09 L438.89,235.79 L439.90,240.39 L440.92,244.84 L441.94,249.10 L442.96,253.12 L443.98,256.84 L444.99,260.23 L446.01,263.22 L447.03,265.79 L448.05,267.86 L449.06,269.41 L450.08,270.37 L451.10,270.70 L452.12,270.52 L453.15,270.01 L454.18,269.19 L455.20,268.08 L456.23,266.71 L457.25,265.12 L458.28,263.31 L459.30,261.32 L460.33,259.18 L461.35,256.91 L462.38,254.54 L463.40,252.08 L464.43,249.58 L465.45,247.05 L466.48,244.52 L467.50,242.02 L468.53,239.56 L469.55,237.19 L470.58,234.92 L471.60,232.78 L472.62,230.79 L473.65,228.98 L474.68,227.39 L475.70,226.02 L476.73,224.91 L477.75,224.09 L478.78,223.58 L479.80,223.40 L480.82,223.51 L481.84,223.82 L482.87,224.32 L483.89,225.00 L484.91,225.84 L485.93,226.83 L486.95,227.96 L487.98,229.21 L489.00,230.57 L490.02,232.03 L491.04,233.57 L492.06,235.17 L493.08,236.83 L494.11,238.53 L495.13,240.26 L496.15,242.00 L497.17,243.74 L498.19,245.47 L499.22,247.17 L500.24,248.83 L501.26,250.43 L502.28,251.97 L503.30,253.43 L504.32,254.79 L505.35,256.04 L506.37,257.17 L507.39,258.16 L508.41,259.00 L509.43,259.68 L510.46,260.18 L511.48,260.49 L512.50,260.60 L513.51,260.53 L514.53,260.32 L515.54,259.98 L516.56,259.52 L517.57,258.96 L518.59,258.28 L519.60,257.52 L520.62,256.66 L521.63,255.74 L522.65,254.74 L523.66,253.68 L524.68,252.57 L525.69,251.42 L526.71,250.23 L527.72,249.02 L528.74,247.79 L529.75,246.55 L530.76,245.31 L531.78,244.08 L532.79,242.87 L533.81,241.68 L534.82,240.53 L535.84,239.42 L536.85,238.36 L537.87,237.36 L538.88,236.44 L539.90,235.58 L540.91,234.82 L541.93,234.14 L542.94,233.58 L543.96,233.12 L544.97,232.78 L545.99,232.57 L547.00,232.50 L548.02,232.55 L549.04,232.71 L550.06,232.97 L551.08,233.32 L552.10,233.75 L553.12,234.26 L554.14,234.84 L555.16,235.48 L556.19,236.19 L557.21,236.94 L558.23,237.75 L559.25,238.59 L560.27,239.46 L561.29,240.36 L562.31,241.28 L563.33,242.21 L564.35,243.15 L565.37,244.09 L566.39,245.02 L567.41,245.94 L568.43,246.84 L569.45,247.71 L570.47,248.55 L571.49,249.36 L572.51,250.11 L573.54,250.82 L574.56,251.46 L575.58,252.04 L576.60,252.55 L577.62,252.98 L578.64,253.33 L579.66,253.59 L580.68,253.75 L581.70,253.80 L582.70,253.75 L583.71,253.62 L584.71,253.40 L585.71,253.11 L586.72,252.75 L587.72,252.32 L588.72,251.84 L589.73,251.30 L590.73,250.72 L591.73,250.09 L592.73,249.43 L593.74,248.74 L594.74,248.02 L595.74,247.29 L596.75,246.55 L597.75,245.80 L598.75,245.05 L599.76,244.31 L600.76,243.58 L601.76,242.86 L602.77,242.17 L603.77,241.51 L604.77,240.88 L605.77,240.30 L606.78,239.76 L607.78,239.28 L608.78,238.85 L609.79,238.49 L610.79,238.20 L611.79,237.98 L612.80,237.85 L613.80,237.80 L614.82,237.83 L615.84,237.90 L616.86,238.03 L617.88,238.20 L618.91,238.42 L619.93,238.67 L620.95,238.96 L621.97,239.29 L622.99,239.64 L624.01,240.03 L625.03,240.44 L626.05,240.87 L627.07,241.32 L628.09,241.79 L629.12,242.28 L630.14,242.77 L631.16,243.28 L632.18,243.79 L633.20,244.30 L634.22,244.81 L635.24,245.32 L636.26,245.83 L637.28,246.32 L638.31,246.81 L639.33,247.28 L640.35,247.73 L641.37,248.16 L642.39,248.57 L643.41,248.96 L644.43,249.31 L645.45,249.64 L646.47,249.93 L647.49,250.18 L648.52,250.40 L649.54,250.57 L650.56,250.70 L651.58,250.77 L652.60,250.80 L653.60,250.79 L654.60,250.76 L655.60,250.70 L656.60,250.63 L657.60,250.54 L658.60,250.43 L659.60,250.30 L660.60,250.16 L661.60,250.00 L662.60,249.82 L663.60,249.63 L664.60,249.43 L665.60,249.21 L666.60,248.99 L667.60,248.75 L668.60,248.50 L669.60,248.24 L670.60,247.98 L671.60,247.70 L672.60,247.42 L673.60,247.13 L674.60,246.84 L675.60,246.54 L676.60,246.23 L677.60,245.93 L678.60,245.62 L679.60,245.31 L680.60,245.00" stroke="#f0ee48" stroke-width="1.2" fill="none" stroke-linejoin="round"/>
<path d="M52.50,245.00 L53.51,244.82 L54.53,244.65 L55.54,244.47 L56.56,244.30 L57.57,244.12 L58.59,243.95 L59.60,243.78 L60.62,243.61 L61.63,243.45 L62.65,243.29 L63.66,243.13 L64.68,242.97 L65.69,242.82 L66.71,242.67 L67.72,242.52 L68.74,242.38 L69.75,242.25 L70.76,242.12 L71.78,242.00 L72.79,241.88 L73.81,241.77 L74.82,241.66 L75.84,241.56 L76.85,241.47 L77.87,241.38 L78.88,241.31 L79.90,241.24 L80.91,241.18 L81.93,241.12 L82.94,241.08 L83.96,241.05 L84.97,241.02 L85.99,241.01 L87.00,241.00 L88.01,241.01 L89.02,241.03 L90.03,241.08 L91.04,241.13 L92.06,241.20 L93.07,241.29 L94.08,241.39 L95.09,241.49 L96.10,241.61 L97.11,241.74 L98.12,241.87 L99.13,242.01 L100.14,242.16 L101.16,242.31 L102.17,242.47 L103.18,242.63 L104.19,242.79 L105.20,242.95 L106.21,243.11 L107.22,243.27 L108.23,243.43 L109.24,243.59 L110.26,243.74 L111.27,243.89 L112.28,244.03 L113.29,244.16 L114.30,244.29 L115.31,244.41 L116.32,244.51 L117.33,244.61 L118.34,244.70 L119.36,244.77 L120.37,244.82 L121.38,244.87 L122.39,244.89 L123.40,244.90 L124.40,244.89 L125.41,244.86 L126.41,244.81 L127.41,244.74 L128.41,244.66 L129.42,244.56 L130.42,244.45 L131.42,244.33 L132.43,244.19 L133.43,244.04 L134.43,243.89 L135.44,243.73 L136.44,243.56 L137.44,243.39 L138.44,243.21 L139.45,243.03 L140.45,242.85 L141.45,242.67 L142.46,242.49 L143.46,242.31 L144.46,242.14 L145.46,241.97 L146.47,241.81 L147.47,241.66 L148.47,241.51 L149.48,241.37 L150.48,241.25 L151.48,241.14 L152.49,241.04 L153.49,240.96 L154.49,240.89 L155.49,240.84 L156.50,240.81 L157.50,240.80 L158.50,240.81 L159.50,240.84 L160.50,240.89 L161.50,240.95 L162.50,241.04 L163.50,241.13 L164.50,241.24 L165.50,241.37 L166.50,241.50 L167.50,241.65 L168.50,241.80 L169.50,241.97 L170.50,242.14 L171.50,242.31 L172.50,242.49 L173.50,242.68 L174.50,242.86 L175.50,243.05 L176.50,243.24 L177.50,243.42 L178.50,243.61 L179.50,243.79 L180.50,243.96 L181.50,244.13 L182.50,244.30 L183.50,244.45 L184.50,244.60 L185.50,244.73 L186.50,244.86 L187.50,244.97 L188.50,245.06 L189.50,245.15 L190.50,245.21 L191.50,245.26 L192.50,245.29 L193.50,245.30 L194.53,245.29 L195.56,245.25 L196.58,245.18 L197.61,245.09 L198.64,244.99 L199.67,244.86 L200.70,244.71 L201.72,244.55 L202.75,244.37 L203.78,244.19 L204.81,243.99 L205.84,243.78 L206.87,243.57 L207.89,243.35 L208.92,243.12 L209.95,242.90 L210.98,242.68 L212.01,242.45 L213.03,242.23 L214.06,242.02 L215.09,241.81 L216.12,241.61 L217.15,241.43 L218.18,241.25 L219.20,241.09 L220.23,240.94 L221.26,240.81 L222.29,240.71 L223.32,240.62 L224.34,240.55 L225.37,240.51 L226.40,240.50 L227.43,240.51 L228.46,240.56 L229.49,240.63 L230.52,240.72 L231.55,240.83 L232.58,240.97 L233.61,241.12 L234.64,241.29 L235.67,241.47 L236.70,241.67 L237.73,241.87 L238.76,242.08 L239.79,242.30 L240.82,242.53 L241.85,242.75 L242.88,242.97 L243.91,243.20 L244.94,243.42 L245.97,243.63 L247.00,243.83 L248.03,244.03 L249.06,244.21 L250.09,244.38 L251.12,244.53 L252.15,244.67 L253.18,244.78 L254.21,244.87 L255.24,244.94 L256.27,244.99 L257.30,245.00 L258.32,244.99 L259.34,244.96 L260.36,244.91 L261.38,244.84 L262.40,244.75 L263.42,244.65 L264.44,244.53 L265.45,244.40 L266.47,244.27 L267.49,244.12 L268.51,243.96 L269.53,243.80 L270.55,243.63 L271.57,243.46 L272.59,243.29 L273.61,243.11 L274.63,242.94 L275.65,242.77 L276.67,242.60 L277.69,242.44 L278.71,242.28 L279.73,242.13 L280.75,242.00 L281.76,241.87 L282.78,241.75 L283.80,241.65 L284.82,241.56 L285.84,241.49 L286.86,241.44 L287.88,241.41 L288.90,241.40 L289.90,241.41 L290.91,241.43 L291.91,241.47 L292.91,241.52 L293.92,241.58 L294.92,241.65 L295.92,241.74 L296.93,241.83 L297.93,241.93 L298.93,242.03 L299.94,242.14 L300.94,242.26 L301.94,242.37 L302.95,242.49 L303.95,242.61 L304.96,242.73 L305.96,242.84 L306.96,242.96 L307.97,243.07 L308.97,243.17 L309.97,243.27 L310.98,243.36 L311.98,243.45 L312.98,243.52 L313.99,243.58 L314.99,243.63 L315.99,243.67 L317.00,243.69 L318.00,243.70 L319.00,243.69 L320.00,243.68 L321.00,243.66 L322.00,243.63 L323.00,243.59 L324.00,243.54 L325.00,243.49 L326.00,243.44 L327.00,243.38 L328.00,243.32 L329.00,243.26 L330.00,243.20 L331.00,243.14 L332.00,243.08 L333.00,243.02 L334.00,242.96 L335.00,242.91 L336.00,242.86 L337.00,242.81 L338.00,242.77 L339.00,242.74 L340.00,242.72 L341.00,242.71 L342.00,242.70 L343.03,242.70 L344.06,242.71 L345.09,242.71 L346.12,242.72 L347.16,242.73 L348.19,242.75 L349.22,242.76 L350.25,242.78 L351.28,242.79 L352.31,242.81 L353.34,242.83 L354.38,242.85 L355.41,242.87 L356.44,242.89 L357.47,242.91 L358.50,242.92 L359.53,242.94 L360.56,242.95 L361.59,242.97 L362.62,242.98 L363.66,242.99 L364.69,242.99 L365.72,243.00 L366.75,243.00 L367.78,243.00 L368.81,242.99 L369.84,242.99 L370.88,242.98 L371.91,242.97 L372.94,242.95 L373.97,242.94 L375.00,242.92 L376.03,242.91 L377.06,242.89 L378.09,242.87 L379.12,242.85 L380.16,242.83 L381.19,242.81 L382.22,242.79 L383.25,242.78 L384.28,242.76 L385.31,242.75 L386.34,242.73 L387.38,242.72 L388.41,242.71 L389.44,242.71 L390.47,242.70 L391.50,242.70 L392.50,242.71 L393.50,242.72 L394.50,242.74 L395.50,242.77 L396.50,242.81 L397.50,242.86 L398.50,242.91 L399.50,242.96 L400.50,243.02 L401.50,243.08 L402.50,243.14 L403.50,243.20 L404.50,243.26 L405.50,243.32 L406.50,243.38 L407.50,243.44 L408.50,243.49 L409.50,243.54 L410.50,243.59 L411.50,243.63 L412.50,243.66 L413.50,243.68 L414.50,243.69 L415.50,243.70 L416.50,243.69 L417.51,243.67 L418.51,243.63 L419.51,243.58 L420.52,243.52 L421.52,243.45 L422.52,243.36 L423.53,243.27 L424.53,243.17 L425.53,243.07 L426.54,242.96 L427.54,242.84 L428.54,242.73 L429.55,242.61 L430.55,242.49 L431.56,242.37 L432.56,242.26 L433.56,242.14 L434.57,242.03 L435.57,241.93 L436.57,241.83 L437.58,241.74 L438.58,241.65 L439.58,241.58 L440.59,241.52 L441.59,241.47 L442.59,241.43 L443.60,241.41 L444.60,241.40 L445.62,241.41 L446.64,241.44 L447.66,241.49 L448.68,241.56 L449.70,241.65 L450.72,241.75 L451.74,241.87 L452.75,242.00 L453.77,242.13 L454.79,242.28 L455.81,242.44 L456.83,242.60 L457.85,242.77 L458.87,242.94 L459.89,243.11 L460.91,243.29 L461.93,243.46 L462.95,243.63 L463.97,243.80 L464.99,243.96 L466.01,244.12 L467.03,244.27 L468.05,244.40 L469.06,244.53 L470.08,244.65 L471.10,244.75 L472.12,244.84 L473.14,244.91 L474.16,244.96 L475.18,244.99 L476.20,245.00 L477.23,244.99 L478.26,244.94 L479.29,244.87 L480.32,244.78 L481.35,244.67 L482.38,244.53 L483.41,244.38 L484.44,244.21 L485.47,244.03 L486.50,243.83 L487.53,243.63 L488.56,243.42 L489.59,243.20 L490.62,242.97 L491.65,242.75 L492.68,242.53 L493.71,242.30 L494.74,242.08 L495.77,241.87 L496.80,241.67 L497.83,241.47 L498.86,241.29 L499.89,241.12 L500.92,240.97 L501.95,240.83 L502.98,240.72 L504.01,240.63 L505.04,240.56 L506.07,240.51 L507.10,240.50 L508.13,240.51 L509.16,240.55 L510.18,240.62 L511.21,240.71 L512.24,240.81 L513.27,240.94 L514.30,241.09 L515.33,241.25 L516.35,241.43 L517.38,241.61 L518.41,241.81 L519.44,242.02 L520.47,242.23 L521.49,242.45 L522.52,242.68 L523.55,242.90 L524.58,243.12 L525.61,243.35 L526.63,243.57 L527.66,243.78 L528.69,243.99 L529.72,244.19 L530.75,244.37 L531.77,244.55 L532.80,244.71 L533.83,244.86 L534.86,244.99 L535.89,245.09 L536.92,245.18 L537.94,245.25 L538.97,245.29 L540.00,245.30 L541.00,245.29 L542.00,245.26 L543.00,245.21 L544.00,245.15 L545.00,245.06 L546.00,244.97 L547.00,244.86 L548.00,244.73 L549.00,244.60 L550.00,244.45 L551.00,244.30 L552.00,244.13 L553.00,243.96 L554.00,243.79 L555.00,243.61 L556.00,243.42 L557.00,243.24 L558.00,243.05 L559.00,242.86 L560.00,242.68 L561.00,242.49 L562.00,242.31 L563.00,242.14 L564.00,241.97 L565.00,241.80 L566.00,241.65 L567.00,241.50 L568.00,241.37 L569.00,241.24 L570.00,241.13 L571.00,241.04 L572.00,240.95 L573.00,240.89 L574.00,240.84 L575.00,240.81 L576.00,240.80 L577.00,240.81 L578.01,240.84 L579.01,240.89 L580.01,240.96 L581.01,241.04 L582.02,241.14 L583.02,241.25 L584.02,241.37 L585.03,241.51 L586.03,241.66 L587.03,241.81 L588.04,241.97 L589.04,242.14 L590.04,242.31 L591.04,242.49 L592.05,242.67 L593.05,242.85 L594.05,243.03 L595.06,243.21 L596.06,243.39 L597.06,243.56 L598.06,243.73 L599.07,243.89 L600.07,244.04 L601.07,244.19 L602.08,244.33 L603.08,244.45 L604.08,244.56 L605.09,244.66 L606.09,244.74 L607.09,244.81 L608.09,244.86 L609.10,244.89 L610.10,244.90 L611.11,244.89 L612.12,244.87 L613.13,244.82 L614.14,244.77 L615.16,244.70 L616.17,244.61 L617.18,244.51 L618.19,244.41 L619.20,244.29 L620.21,244.16 L621.22,244.03 L622.23,243.89 L623.24,243.74 L624.26,243.59 L625.27,243.43 L626.28,243.27 L627.29,243.11 L628.30,242.95 L629.31,242.79 L630.32,242.63 L631.33,242.47 L632.34,242.31 L633.36,242.16 L634.37,242.01 L635.38,241.87 L636.39,241.74 L637.40,241.61 L638.41,241.49 L639.42,241.39 L640.43,241.29 L641.44,241.20 L642.46,241.13 L643.47,241.08 L644.48,241.03 L645.49,241.01 L646.50,241.00 L647.50,241.01 L648.51,241.02 L649.51,241.05 L650.51,241.08 L651.51,241.12 L652.52,241.18 L653.52,241.24 L654.52,241.31 L655.53,241.38 L656.53,241.47 L657.53,241.56 L658.54,241.66 L659.54,241.77 L660.54,241.88 L661.54,242.00 L662.55,242.12 L663.55,242.25 L664.55,242.38 L665.56,242.52 L666.56,242.67 L667.56,242.82 L668.56,242.97 L669.57,243.13 L670.57,243.29 L671.57,243.45 L672.58,243.61 L673.58,243.78 L674.58,243.95 L675.59,244.12 L676.59,244.30 L677.59,244.47 L678.59,244.65 L679.60,244.82 L680.60,245.00" stroke="#dc48dc" stroke-width="1.2" fill="none" stroke-linejoin="round"/>
<path d="M52.50,245.00 L53.53,245.49 L54.56,245.99 L55.59,246.48 L56.62,246.96 L57.65,247.45 L58.67,247.92 L59.70,248.40 L60.73,248.86 L61.76,249.32 L62.79,249.76 L63.82,250.20 L64.85,250.63 L65.88,251.04 L66.91,251.44 L67.94,251.83 L68.96,252.20 L69.99,252.55 L71.02,252.89 L72.05,253.20 L73.08,253.50 L74.11,253.78 L75.14,254.04 L76.17,254.27 L77.20,254.48 L78.23,254.66 L79.25,254.82 L80.28,254.96 L81.31,255.06 L82.34,255.14 L83.37,255.18 L84.40,255.20 L85.41,255.17 L86.41,255.08 L87.42,254.93 L88.42,254.73 L89.43,254.47 L90.44,254.18 L91.44,253.84 L92.45,253.46 L93.45,253.05 L94.46,252.61 L95.46,252.15 L96.47,251.66 L97.48,251.15 L98.48,250.62 L99.49,250.09 L100.49,249.55 L101.50,249.00 L102.51,248.45 L103.51,247.91 L104.52,247.38 L105.52,246.85 L106.53,246.34 L107.54,245.85 L108.54,245.39 L109.55,244.95 L110.55,244.54 L111.56,244.16 L112.56,243.82 L113.57,243.53 L114.58,243.27 L115.58,243.07 L116.59,242.92 L117.59,242.83 L118.60,242.80 L119.61,242.84 L120.61,242.96 L121.62,243.16 L122.62,243.42 L123.63,243.75 L124.64,244.14 L125.64,244.59 L126.65,245.08 L127.65,245.62 L128.66,246.20 L129.66,246.81 L130.67,247.46 L131.68,248.13 L132.68,248.82 L133.69,249.52 L134.69,250.23 L135.70,250.95 L136.71,251.67 L137.71,252.38 L138.72,253.08 L139.72,253.77 L140.73,254.44 L141.74,255.09 L142.74,255.70 L143.75,256.28 L144.75,256.82 L145.76,257.31 L146.76,257.76 L147.77,258.15 L148.78,258.48 L149.78,258.74 L150.79,258.94 L151.79,259.06 L152.80,259.10 L153.81,259.04 L154.82,258.87 L155.84,258.60 L156.85,258.23 L157.86,257.77 L158.87,257.23 L159.88,256.61 L160.89,255.92 L161.91,255.17 L162.92,254.36 L163.93,253.51 L164.94,252.61 L165.95,251.68 L166.96,250.72 L167.98,249.74 L168.99,248.75 L170.00,247.75 L171.01,246.75 L172.02,245.76 L173.04,244.78 L174.05,243.82 L175.06,242.89 L176.07,241.99 L177.08,241.14 L178.09,240.33 L179.11,239.58 L180.12,238.89 L181.13,238.27 L182.14,237.73 L183.15,237.27 L184.16,236.90 L185.18,236.63 L186.19,236.46 L187.20,236.40 L188.22,236.48 L189.25,236.73 L190.27,237.13 L191.30,237.67 L192.32,238.34 L193.35,239.13 L194.37,240.03 L195.39,241.03 L196.42,242.11 L197.44,243.28 L198.47,244.51 L199.49,245.81 L200.52,247.15 L201.54,248.52 L202.56,249.92 L203.59,251.34 L204.61,252.76 L205.64,254.18 L206.66,255.58 L207.68,256.95 L208.71,258.29 L209.73,259.59 L210.76,260.82 L211.78,261.99 L212.81,263.07 L213.83,264.07 L214.85,264.97 L215.88,265.76 L216.90,266.43 L217.93,266.97 L218.95,267.37 L219.98,267.62 L221.00,267.70 L222.02,267.57 L223.04,267.20 L224.07,266.60 L225.09,265.80 L226.11,264.79 L227.13,263.61 L228.15,262.27 L229.18,260.78 L230.20,259.16 L231.22,257.43 L232.24,255.59 L233.26,253.68 L234.28,251.71 L235.31,249.68 L236.33,247.62 L237.35,245.55 L238.37,243.48 L239.39,241.42 L240.42,239.39 L241.44,237.42 L242.46,235.51 L243.48,233.67 L244.50,231.94 L245.52,230.32 L246.55,228.83 L247.57,227.49 L248.59,226.31 L249.61,225.30 L250.63,224.50 L251.66,223.90 L252.68,223.53 L253.70,223.40 L254.71,223.60 L255.71,224.20 L256.72,225.15 L257.73,226.44 L258.73,228.04 L259.74,229.91 L260.75,232.03 L261.75,234.38 L262.76,236.92 L263.77,239.63 L264.77,242.48 L265.78,245.44 L266.79,248.48 L267.79,251.57 L268.80,254.70 L269.81,257.83 L270.81,260.92 L271.82,263.96 L272.83,266.92 L273.83,269.77 L274.84,272.48 L275.85,275.02 L276.85,277.37 L277.86,279.49 L278.87,281.36 L279.87,282.96 L280.88,284.25 L281.89,285.20 L282.89,285.80 L283.90,286.00 L284.90,285.72 L285.91,284.91 L286.91,283.61 L287.91,281.85 L288.92,279.69 L289.92,277.14 L290.92,274.27 L291.93,271.09 L292.93,267.67 L293.93,264.02 L294.94,260.20 L295.94,256.24 L296.94,252.18 L297.95,248.07 L298.95,243.93 L299.96,239.82 L300.96,235.76 L301.96,231.80 L302.97,227.98 L303.97,224.33 L304.97,220.91 L305.98,217.73 L306.98,214.86 L307.98,212.31 L308.99,210.15 L309.99,208.39 L310.99,207.09 L312.00,206.28 L313.00,206.00 L314.02,206.35 L315.04,207.38 L316.06,209.03 L317.07,211.24 L318.09,213.96 L319.11,217.14 L320.13,220.73 L321.15,224.66 L322.17,228.89 L323.19,233.37 L324.20,238.03 L325.22,242.82 L326.24,247.70 L327.26,252.60 L328.28,257.48 L329.30,262.27 L330.31,266.93 L331.33,271.41 L332.35,275.64 L333.37,279.57 L334.39,283.16 L335.41,286.34 L336.43,289.06 L337.44,291.27 L338.46,292.92 L339.48,293.95 L340.50,294.30 L341.51,293.92 L342.52,292.83 L343.53,291.08 L344.54,288.73 L345.55,285.85 L346.56,282.48 L347.57,278.71 L348.58,274.57 L349.59,270.13 L350.60,265.46 L351.61,260.61 L352.62,255.63 L353.62,250.60 L354.63,245.57 L355.64,240.59 L356.65,235.74 L357.66,231.07 L358.67,226.63 L359.68,222.49 L360.69,218.72 L361.70,215.35 L362.71,212.47 L363.72,210.12 L364.73,208.37 L365.74,207.28 L366.75,206.90 L367.76,207.28 L368.77,208.37 L369.78,210.12 L370.79,212.47 L371.80,215.35 L372.81,218.72 L373.82,222.49 L374.83,226.63 L375.84,231.07 L376.85,235.74 L377.86,240.59 L378.87,245.57 L379.88,250.60 L380.88,255.63 L381.89,260.61 L382.90,265.46 L383.91,270.13 L384.92,274.57 L385.93,278.71 L386.94,282.48 L387.95,285.85 L388.96,288.73 L389.97,291.08 L390.98,292.83 L391.99,293.92 L393.00,294.30 L394.02,293.95 L395.04,292.92 L396.06,291.27 L397.07,289.06 L398.09,286.34 L399.11,283.16 L400.13,279.57 L401.15,275.64 L402.17,271.41 L403.19,266.93 L404.20,262.27 L405.22,257.48 L406.24,252.60 L407.26,247.70 L408.28,242.82 L409.30,238.03 L410.31,233.37 L411.33,228.89 L412.35,224.66 L413.37,220.73 L414.39,217.14 L415.41,213.96 L416.43,211.24 L417.44,209.03 L418.46,207.38 L419.48,206.35 L420.50,206.00 L421.50,206.28 L422.51,207.09 L423.51,208.39 L424.51,210.15 L425.52,212.31 L426.52,214.86 L427.52,217.73 L428.53,220.91 L429.53,224.33 L430.53,227.98 L431.54,231.80 L432.54,235.76 L433.54,239.82 L434.55,243.93 L435.55,248.07 L436.56,252.18 L437.56,256.24 L438.56,260.20 L439.57,264.02 L440.57,267.67 L441.57,271.09 L442.58,274.27 L443.58,277.14 L444.58,279.69 L445.59,281.85 L446.59,283.61 L447.59,284.91 L448.60,285.72 L449.60,286.00 L450.61,285.80 L451.61,285.20 L452.62,284.25 L453.63,282.96 L454.63,281.36 L455.64,279.49 L456.65,277.37 L457.65,275.02 L458.66,272.48 L459.67,269.77 L460.67,266.92 L461.68,263.96 L462.69,260.92 L463.69,257.83 L464.70,254.70 L465.71,251.57 L466.71,248.48 L467.72,245.44 L468.73,242.48 L469.73,239.63 L470.74,236.92 L471.75,234.38 L472.75,232.03 L473.76,229.91 L474.77,228.04 L475.77,226.44 L476.78,225.15 L477.79,224.20 L478.79,223.60 L479.80,223.40 L480.82,223.53 L481.84,223.90 L482.87,224.50 L483.89,225.30 L484.91,226.31 L485.93,227.49 L486.95,228.83 L487.98,230.32 L489.00,231.94 L490.02,233.67 L491.04,235.51 L492.06,237.42 L493.08,239.39 L494.11,241.42 L495.13,243.48 L496.15,245.55 L497.17,247.62 L498.19,249.68 L499.22,251.71 L500.24,253.68 L501.26,255.59 L502.28,257.43 L503.30,259.16 L504.32,260.78 L505.35,262.27 L506.37,263.61 L507.39,264.79 L508.41,265.80 L509.43,266.60 L510.46,267.20 L511.48,267.57 L512.50,267.70 L513.52,267.62 L514.55,267.37 L515.57,266.97 L516.60,266.43 L517.62,265.76 L518.65,264.97 L519.67,264.07 L520.69,263.07 L521.72,261.99 L522.74,260.82 L523.77,259.59 L524.79,258.29 L525.82,256.95 L526.84,255.58 L527.86,254.18 L528.89,252.76 L529.91,251.34 L530.94,249.92 L531.96,248.52 L532.98,247.15 L534.01,245.81 L535.03,244.51 L536.06,243.28 L537.08,242.11 L538.11,241.03 L539.13,240.03 L540.15,239.13 L541.18,238.34 L542.20,237.67 L543.23,237.13 L544.25,236.73 L545.28,236.48 L546.30,236.40 L547.31,236.46 L548.32,236.63 L549.34,236.90 L550.35,237.27 L551.36,237.73 L552.37,238.27 L553.38,238.89 L554.39,239.58 L555.41,240.33 L556.42,241.14 L557.43,241.99 L558.44,242.89 L559.45,243.82 L560.46,244.78 L561.48,245.76 L562.49,246.75 L563.50,247.75 L564.51,248.75 L565.52,249.74 L566.54,250.72 L567.55,251.68 L568.56,252.61 L569.57,253.51 L570.58,254.36 L571.59,255.17 L572.61,255.92 L573.62,256.61 L574.63,257.23 L575.64,257.77 L576.65,258.23 L577.66,258.60 L578.68,258.87 L579.69,259.04 L580.70,259.10 L581.71,259.06 L582.71,258.94 L583.72,258.74 L584.72,258.48 L585.73,258.15 L586.74,257.76 L587.74,257.31 L588.75,256.82 L589.75,256.28 L590.76,255.70 L591.76,255.09 L592.77,254.44 L593.78,253.77 L594.78,253.08 L595.79,252.38 L596.79,251.67 L597.80,250.95 L598.81,250.23 L599.81,249.52 L600.82,248.82 L601.82,248.13 L602.83,247.46 L603.84,246.81 L604.84,246.20 L605.85,245.62 L606.85,245.08 L607.86,244.59 L608.86,244.14 L609.87,243.75 L610.88,243.42 L611.88,243.16 L612.89,242.96 L613.89,242.84 L614.90,242.80 L615.91,242.83 L616.91,242.92 L617.92,243.07 L618.92,243.27 L619.93,243.53 L620.94,243.82 L621.94,244.16 L622.95,244.54 L623.95,244.95 L624.96,245.39 L625.96,245.85 L626.97,246.34 L627.98,246.85 L628.98,247.38 L629.99,247.91 L630.99,248.45 L632.00,249.00 L633.01,249.55 L634.01,250.09 L635.02,250.62 L636.02,251.15 L637.03,251.66 L638.04,252.15 L639.04,252.61 L640.05,253.05 L641.05,253.46 L642.06,253.84 L643.06,254.18 L644.07,254.47 L645.08,254.73 L646.08,254.93 L647.09,255.08 L648.09,255.17 L649.10,255.20 L650.12,255.18 L651.13,255.14 L652.15,255.06 L653.16,254.96 L654.18,254.82 L655.20,254.66 L656.21,254.48 L657.23,254.27 L658.25,254.04 L659.26,253.78 L660.28,253.50 L661.29,253.20 L662.31,252.89 L663.33,252.55 L664.34,252.20 L665.36,251.83 L666.37,251.44 L667.39,251.04 L668.41,250.63 L669.42,250.20 L670.44,249.76 L671.45,249.32 L672.47,248.86 L673.49,248.40 L674.50,247.92 L675.52,247.45 L676.54,246.96 L677.55,246.48 L678.57,245.99 L679.58,245.49 L680.60,245.00" stroke="#3cd43c" stroke-width="1.2" fill="none" stroke-linejoin="round"/>
<path d="M52.50,245.00 L53.51,245.19 L54.53,245.37 L55.54,245.56 L56.56,245.74 L57.57,245.93 L58.59,246.11 L59.60,246.29 L60.61,246.46 L61.63,246.63 L62.64,246.80 L63.66,246.96 L64.67,247.11 L65.69,247.26 L66.70,247.41 L67.71,247.54 L68.73,247.67 L69.74,247.80 L70.76,247.91 L71.77,248.02 L72.79,248.11 L73.80,248.20 L74.81,248.28 L75.83,248.34 L76.84,248.40 L77.86,248.44 L78.87,248.47 L79.89,248.49 L80.90,248.50 L81.92,248.46 L82.94,248.34 L83.96,248.15 L84.98,247.90 L85.99,247.58 L87.01,247.20 L88.03,246.76 L89.05,246.28 L90.07,245.75 L91.09,245.18 L92.11,244.57 L93.13,243.92 L94.15,243.25 L95.16,242.56 L96.18,241.84 L97.20,241.11 L98.22,240.37 L99.24,239.62 L100.26,238.88 L101.28,238.13 L102.30,237.39 L103.32,236.66 L104.34,235.94 L105.35,235.25 L106.37,234.58 L107.39,233.93 L108.41,233.32 L109.43,232.75 L110.45,232.22 L111.47,231.74 L112.49,231.30 L113.51,230.92 L114.52,230.60 L115.54,230.35 L116.56,230.16 L117.58,230.04 L118.60,230.00 L119.62,230.04 L120.65,230.16 L121.67,230.36 L122.70,230.63 L123.72,230.97 L124.75,231.37 L125.77,231.83 L126.80,232.33 L127.82,232.89 L128.85,233.49 L129.88,234.13 L130.90,234.80 L131.92,235.49 L132.95,236.22 L133.97,236.96 L135.00,237.71 L136.03,238.48 L137.05,239.25 L138.07,240.02 L139.10,240.79 L140.12,241.54 L141.15,242.28 L142.18,243.01 L143.20,243.70 L144.22,244.37 L145.25,245.01 L146.28,245.61 L147.30,246.17 L148.32,246.67 L149.35,247.13 L150.38,247.53 L151.40,247.87 L152.43,248.14 L153.45,248.34 L154.47,248.46 L155.50,248.50 L156.50,248.45 L157.50,248.29 L158.50,248.03 L159.50,247.69 L160.50,247.26 L161.50,246.76 L162.50,246.20 L163.50,245.57 L164.50,244.90 L165.50,244.19 L166.50,243.44 L167.50,242.66 L168.50,241.86 L169.50,241.06 L170.50,240.24 L171.50,239.44 L172.50,238.64 L173.50,237.86 L174.50,237.11 L175.50,236.40 L176.50,235.73 L177.50,235.10 L178.50,234.54 L179.50,234.04 L180.50,233.61 L181.50,233.27 L182.50,233.01 L183.50,232.85 L184.50,232.80 L185.51,232.86 L186.52,233.03 L187.53,233.31 L188.54,233.68 L189.55,234.15 L190.56,234.69 L191.57,235.31 L192.57,236.00 L193.58,236.75 L194.59,237.55 L195.60,238.40 L196.61,239.29 L197.62,240.20 L198.63,241.14 L199.64,242.09 L200.65,243.05 L201.66,244.01 L202.67,244.96 L203.68,245.90 L204.69,246.81 L205.70,247.70 L206.71,248.55 L207.72,249.35 L208.73,250.10 L209.73,250.79 L210.74,251.41 L211.75,251.95 L212.76,252.42 L213.77,252.79 L214.78,253.07 L215.79,253.24 L216.80,253.30 L217.82,253.19 L218.85,252.87 L219.87,252.34 L220.90,251.63 L221.92,250.76 L222.95,249.72 L223.97,248.54 L224.99,247.22 L226.02,245.80 L227.04,244.27 L228.07,242.64 L229.09,240.95 L230.12,239.19 L231.14,237.38 L232.16,235.54 L233.19,233.68 L234.21,231.82 L235.24,229.96 L236.26,228.12 L237.28,226.31 L238.31,224.55 L239.33,222.86 L240.36,221.23 L241.38,219.70 L242.41,218.28 L243.43,216.96 L244.45,215.78 L245.48,214.74 L246.50,213.87 L247.53,213.16 L248.55,212.63 L249.58,212.31 L250.60,212.20 L251.67,212.44 L252.74,213.14 L253.81,214.24 L254.88,215.68 L255.95,217.43 L257.02,219.42 L258.08,221.61 L259.15,223.94 L260.22,226.37 L261.29,228.84 L262.36,231.30 L263.43,233.71 L264.50,236.00 L265.51,238.29 L266.51,240.95 L267.52,243.91 L268.52,247.14 L269.53,250.56 L270.53,254.12 L271.54,257.77 L272.54,261.45 L273.55,265.11 L274.55,268.68 L275.56,272.11 L276.56,275.36 L277.57,278.35 L278.57,281.03 L279.58,283.36 L280.58,285.26 L281.59,286.69 L282.59,287.59 L283.60,287.90 L284.60,287.57 L285.61,286.63 L286.61,285.10 L287.61,283.03 L288.62,280.48 L289.62,277.47 L290.62,274.05 L291.63,270.27 L292.63,266.16 L293.63,261.78 L294.64,257.16 L295.64,252.35 L296.64,247.38 L297.65,242.31 L298.65,237.18 L299.65,232.02 L300.65,226.89 L301.66,221.82 L302.66,216.85 L303.66,212.04 L304.67,207.42 L305.67,203.04 L306.67,198.93 L307.68,195.15 L308.68,191.73 L309.68,188.72 L310.69,186.17 L311.69,184.10 L312.69,182.57 L313.70,181.63 L314.70,181.30 L315.73,181.64 L316.77,182.64 L317.80,184.24 L318.83,186.39 L319.87,189.04 L320.90,192.13 L321.93,195.61 L322.97,199.43 L324.00,203.54 L325.03,207.89 L326.07,212.42 L327.10,217.08 L328.13,221.82 L329.17,226.58 L330.20,231.32 L331.23,235.98 L332.27,240.51 L333.30,244.86 L334.33,248.97 L335.37,252.79 L336.40,256.27 L337.43,259.36 L338.47,262.01 L339.50,264.16 L340.53,265.76 L341.57,266.76 L342.60,267.10 L343.61,266.78 L344.61,265.84 L345.62,264.35 L346.62,262.36 L347.63,259.92 L348.64,257.10 L349.64,253.94 L350.65,250.51 L351.66,246.85 L352.66,243.03 L353.67,239.09 L354.68,235.10 L355.68,231.11 L356.69,227.17 L357.69,223.35 L358.70,219.69 L359.71,216.26 L360.71,213.10 L361.72,210.28 L362.73,207.84 L363.73,205.85 L364.74,204.36 L365.74,203.42 L366.75,203.10 L367.76,203.42 L368.76,204.36 L369.77,205.85 L370.77,207.84 L371.78,210.28 L372.79,213.10 L373.79,216.26 L374.80,219.69 L375.81,223.35 L376.81,227.17 L377.82,231.11 L378.82,235.10 L379.83,239.09 L380.84,243.03 L381.84,246.85 L382.85,250.51 L383.86,253.94 L384.86,257.10 L385.87,259.92 L386.88,262.36 L387.88,264.35 L388.89,265.84 L389.89,266.78 L390.90,267.10 L391.93,266.76 L392.97,265.76 L394.00,264.16 L395.03,262.01 L396.07,259.36 L397.10,256.27 L398.13,252.79 L399.17,248.97 L400.20,244.86 L401.23,240.51 L402.27,235.98 L403.30,231.32 L404.33,226.58 L405.37,221.82 L406.40,217.08 L407.43,212.42 L408.47,207.89 L409.50,203.54 L410.53,199.43 L411.57,195.61 L412.60,192.13 L413.63,189.04 L414.67,186.39 L415.70,184.24 L416.73,182.64 L417.77,181.64 L418.80,181.30 L419.80,181.63 L420.81,182.57 L421.81,184.10 L422.81,186.17 L423.82,188.72 L424.82,191.73 L425.82,195.15 L426.83,198.93 L427.83,203.04 L428.83,207.42 L429.84,212.04 L430.84,216.85 L431.84,221.82 L432.85,226.89 L433.85,232.02 L434.85,237.18 L435.85,242.31 L436.86,247.38 L437.86,252.35 L438.86,257.16 L439.87,261.78 L440.87,266.16 L441.87,270.27 L442.88,274.05 L443.88,277.47 L444.88,280.48 L445.89,283.03 L446.89,285.10 L447.89,286.63 L448.90,287.57 L449.90,287.90 L450.91,287.59 L451.91,286.69 L452.92,285.26 L453.92,283.36 L454.93,281.03 L455.93,278.35 L456.94,275.36 L457.94,272.11 L458.95,268.68 L459.95,265.11 L460.96,261.45 L461.96,257.77 L462.97,254.12 L463.97,250.56 L464.98,247.14 L465.98,243.91 L466.99,240.95 L467.99,238.29 L469.00,236.00 L470.07,233.71 L471.14,231.30 L472.21,228.84 L473.28,226.37 L474.35,223.94 L475.42,221.61 L476.48,219.42 L477.55,217.43 L478.62,215.68 L479.69,214.24 L480.76,213.14 L481.83,212.44 L482.90,212.20 L483.92,212.31 L484.95,212.63 L485.97,213.16 L487.00,213.87 L488.02,214.74 L489.05,215.78 L490.07,216.96 L491.09,218.28 L492.12,219.70 L493.14,221.23 L494.17,222.86 L495.19,224.55 L496.22,226.31 L497.24,228.12 L498.26,229.96 L499.29,231.82 L500.31,233.68 L501.34,235.54 L502.36,237.38 L503.38,239.19 L504.41,240.95 L505.43,242.64 L506.46,244.27 L507.48,245.80 L508.51,247.22 L509.53,248.54 L510.55,249.72 L511.58,250.76 L512.60,251.63 L513.63,252.34 L514.65,252.87 L515.68,253.19 L516.70,253.30 L517.71,253.24 L518.72,253.07 L519.73,252.79 L520.74,252.42 L521.75,251.95 L522.76,251.41 L523.77,250.79 L524.78,250.10 L525.78,249.35 L526.79,248.55 L527.80,247.70 L528.81,246.81 L529.82,245.90 L530.83,244.96 L531.84,244.01 L532.85,243.05 L533.86,242.09 L534.87,241.14 L535.88,240.20 L536.89,239.29 L537.90,238.40 L538.91,237.55 L539.92,236.75 L540.92,236.00 L541.93,235.31 L542.94,234.69 L543.95,234.15 L544.96,233.68 L545.97,233.31 L546.98,233.03 L547.99,232.86 L549.00,232.80 L550.00,232.85 L551.00,233.01 L552.00,233.27 L553.00,233.61 L554.00,234.04 L555.00,234.54 L556.00,235.10 L557.00,235.73 L558.00,236.40 L559.00,237.11 L560.00,237.86 L561.00,238.64 L562.00,239.44 L563.00,240.24 L564.00,241.06 L565.00,241.86 L566.00,242.66 L567.00,243.44 L568.00,244.19 L569.00,244.90 L570.00,245.57 L571.00,246.20 L572.00,246.76 L573.00,247.26 L574.00,247.69 L575.00,248.03 L576.00,248.29 L577.00,248.45 L578.00,248.50 L579.02,248.46 L580.05,248.34 L581.08,248.14 L582.10,247.87 L583.12,247.53 L584.15,247.13 L585.17,246.67 L586.20,246.17 L587.23,245.61 L588.25,245.01 L589.27,244.37 L590.30,243.70 L591.33,243.01 L592.35,242.28 L593.38,241.54 L594.40,240.79 L595.42,240.02 L596.45,239.25 L597.48,238.48 L598.50,237.71 L599.52,236.96 L600.55,236.22 L601.57,235.49 L602.60,234.80 L603.62,234.13 L604.65,233.49 L605.67,232.89 L606.70,232.33 L607.73,231.83 L608.75,231.37 L609.77,230.97 L610.80,230.63 L611.82,230.36 L612.85,230.16 L613.88,230.04 L614.90,230.00 L615.92,230.04 L616.94,230.16 L617.96,230.35 L618.98,230.60 L619.99,230.92 L621.01,231.30 L622.03,231.74 L623.05,232.22 L624.07,232.75 L625.09,233.32 L626.11,233.93 L627.13,234.58 L628.15,235.25 L629.16,235.94 L630.18,236.66 L631.20,237.39 L632.22,238.13 L633.24,238.88 L634.26,239.62 L635.28,240.37 L636.30,241.11 L637.32,241.84 L638.34,242.56 L639.35,243.25 L640.37,243.92 L641.39,244.57 L642.41,245.18 L643.43,245.75 L644.45,246.28 L645.47,246.76 L646.49,247.20 L647.51,247.58 L648.52,247.90 L649.54,248.15 L650.56,248.34 L651.58,248.46 L652.60,248.50 L653.60,248.49 L654.60,248.47 L655.60,248.44 L656.60,248.40 L657.60,248.34 L658.60,248.28 L659.60,248.20 L660.60,248.11 L661.60,248.02 L662.60,247.91 L663.60,247.80 L664.60,247.67 L665.60,247.54 L666.60,247.41 L667.60,247.26 L668.60,247.11 L669.60,246.96 L670.60,246.80 L671.60,246.63 L672.60,246.46 L673.60,246.29 L674.60,246.11 L675.60,245.93 L676.60,245.74 L677.60,245.56 L678.60,245.37 L679.60,245.19 L680.60,245.00" stroke="#48dae2" stroke-width="1.2" fill="none" stroke-linejoin="round"/>
<path d="M115.5,342.5v-6.4M115.5,1.5v6.4M178.5,342.5v-6.4M178.5,1.5v6.4M241.5,342.5v-6.4M241.5,1.5v6.4M304.5,342.5v-6.4M304.5,1.5v6.4M366.5,342.5v-6.4M366.5,1.5v6.4M429.5,342.5v-6.4M429.5,1.5v6.4M492.5,342.5v-6.4M492.5,1.5v6.4M555.5,342.5v-6.4M555.5,1.5v6.4M618.5,342.5v-6.4M618.5,1.5v6.4M52.5,31.5h6.4M680.5,31.5h-6.4M52.5,62.5h6.4M680.5,62.5h-6.4M52.5,92.5h6.4M680.5,92.5h-6.4M52.5,123.5h6.4M680.5,123.5h-6.4M52.5,153.5h6.4M680.5,153.5h-6.4M52.5,184.5h6.4M680.5,184.5h-6.4M52.5,214.5h6.4M680.5,214.5h-6.4M52.5,245.5h6.4M680.5,245.5h-6.4M52.5,275.5h6.4M680.5,275.5h-6.4M52.5,305.5h6.4M680.5,305.5h-6.4M52.5,336.5h6.4M680.5,336.5h-6.4" stroke="#6e6e6e" stroke-width="1" fill="none"/>
<path d="M52.5,1.0V343.0" stroke="#828282" stroke-width="1"/>
<path d="M52.0,342.5H681.0" stroke="#626262" stroke-width="1"/>
<path d="M52.0,1.5H681.0" stroke="#686868" stroke-width="1"/>
<path d="M680.5,1.5V342.5" stroke="#9a9a9a" stroke-width="1.2"/>
<text x="49.5" y="35.13" text-anchor="end" class="tk">0.035</text>
<text x="49.5" y="65.63" text-anchor="end" class="tk">0.03</text>
<text x="49.5" y="96.12" text-anchor="end" class="tk">0.025</text>
<text x="49.5" y="126.62" text-anchor="end" class="tk">0.02</text>
<text x="49.5" y="157.11" text-anchor="end" class="tk">0.015</text>
<text x="49.5" y="187.61" text-anchor="end" class="tk">0.01</text>
<text x="49.5" y="218.10" text-anchor="end" class="tk">0.005</text>
<text x="49.5" y="248.60" text-anchor="end" class="tk">0</text>
<text x="49.5" y="279.10" text-anchor="end" class="tk">-0.005</text>
<text x="49.5" y="309.59" text-anchor="end" class="tk">-0.01</text>
<text x="49.5" y="340.09" text-anchor="end" class="tk">-0.015</text>
<text x="52.50" y="354.9" text-anchor="middle" class="tk">0</text>
<text x="115.30" y="354.9" text-anchor="middle" class="tk">0.1</text>
<text x="178.10" y="354.9" text-anchor="middle" class="tk">0.2</text>
<text x="240.90" y="354.9" text-anchor="middle" class="tk">0.3</text>
<text x="303.70" y="354.9" text-anchor="middle" class="tk">0.4</text>
<text x="366.50" y="354.9" text-anchor="middle" class="tk">0.5</text>
<text x="429.30" y="354.9" text-anchor="middle" class="tk">0.6</text>
<text x="492.10" y="354.9" text-anchor="middle" class="tk">0.7</text>
<text x="554.90" y="354.9" text-anchor="middle" class="tk">0.8</text>
<text x="617.70" y="354.9" text-anchor="middle" class="tk">0.9</text>
<text x="680.50" y="354.9" text-anchor="middle" class="tk">1</text>
<text x="366.20" y="368.1" text-anchor="middle" class="lb">Normalized Frequency</text>
<text transform="translate(9.3,172.00) rotate(-90)" text-anchor="middle" class="lb">Recostruction ripple in dB</text>
<rect x="467.5" y="22.5" width="203.10" height="93.00" fill="#fff" stroke="#5a5a5a" stroke-width="1"/>
<path d="M479,29.60H495.6" stroke="#d06868" stroke-width="1.7"/>
<text x="497.6" y="32.50" class="lg">Steepest Descent Method, 2006 [19]</text>
<path d="M479,42.67H495.6" stroke="#6b6bd8" stroke-width="1.7"/>
<text x="497.6" y="45.57" class="lg">PSO Algorithm, 2010 [42]</text>
<path d="M479,55.74H495.6" stroke="#707070" stroke-width="1.7"/>
<text x="497.6" y="58.64" class="lg">LM Optimization, 2011 [36]</text>
<path d="M479,68.81H495.6" stroke="#f0f070" stroke-width="1.7"/>
<text x="497.6" y="71.71" class="lg">ABC Algorithm, 2015 [20]</text>
<path d="M479,81.88H495.6" stroke="#d878d8" stroke-width="1.7"/>
<text x="497.6" y="84.78" class="lg">HBC Algorithm, 2021 [55]</text>
<path d="M479,94.95H495.6" stroke="#70e070" stroke-width="1.7"/>
<text x="497.6" y="97.85" class="lg">SMO Algorithm, 2023 [38]</text>
<path d="M479,108.02H495.6" stroke="#80e0e0" stroke-width="1.7"/>
<text x="497.6" y="110.92" class="lg">D-GWO Algorithm, 2024 [17]</text>
<text x="367.1" y="397" text-anchor="middle" class="cap">(a)</text>
<path d="M113.5,432.5V773.5M176.5,432.5V773.5M238.5,432.5V773.5M301.5,432.5V773.5M364.5,432.5V773.5M427.5,432.5V773.5M490.5,432.5V773.5M552.5,432.5V773.5M615.5,432.5V773.5M50.5,489.5H678.5M50.5,545.5H678.5M50.5,602.5H678.5M50.5,659.5H678.5M50.5,716.5H678.5" stroke="#ebebeb" stroke-width="1" fill="none"/>
<path d="M50.45,659.60 L51.45,659.84 L52.45,660.07 L53.45,660.31 L54.46,660.54 L55.46,660.78 L56.46,661.00 L57.46,661.23 L58.46,661.45 L59.46,661.67 L60.47,661.89 L61.47,662.10 L62.47,662.30 L63.47,662.50 L64.47,662.69 L65.47,662.88 L66.48,663.06 L67.48,663.23 L68.48,663.39 L69.48,663.54 L70.48,663.68 L71.48,663.82 L72.49,663.94 L73.49,664.05 L74.49,664.15 L75.49,664.24 L76.49,664.32 L77.49,664.38 L78.50,664.43 L79.50,664.47 L80.50,664.49 L81.50,664.50 L82.50,664.49 L83.50,664.45 L84.50,664.39 L85.50,664.32 L86.50,664.22 L87.50,664.11 L88.50,663.99 L89.50,663.86 L90.50,663.72 L91.50,663.57 L92.50,663.42 L93.50,663.28 L94.50,663.13 L95.50,662.98 L96.50,662.84 L97.50,662.71 L98.50,662.59 L99.50,662.48 L100.50,662.38 L101.50,662.31 L102.50,662.25 L103.50,662.21 L104.50,662.20 L105.50,662.25 L106.50,662.39 L107.51,662.63 L108.51,662.94 L109.51,663.34 L110.51,663.82 L111.52,664.36 L112.52,664.97 L113.52,665.64 L114.52,666.37 L115.53,667.15 L116.53,667.97 L117.53,668.84 L118.53,669.74 L119.54,670.67 L120.54,671.63 L121.54,672.61 L122.54,673.61 L123.55,674.62 L124.55,675.64 L125.55,676.66 L126.55,677.68 L127.56,678.69 L128.56,679.69 L129.56,680.67 L130.56,681.63 L131.57,682.56 L132.57,683.46 L133.57,684.33 L134.57,685.15 L135.58,685.93 L136.58,686.66 L137.58,687.33 L138.58,687.94 L139.59,688.48 L140.59,688.96 L141.59,689.36 L142.59,689.67 L143.60,689.91 L144.60,690.05 L145.60,690.10 L146.60,690.02 L147.60,689.77 L148.60,689.36 L149.60,688.82 L150.60,688.13 L151.60,687.32 L152.60,686.38 L153.60,685.34 L154.60,684.19 L155.60,682.95 L156.60,681.63 L157.60,680.23 L158.60,678.77 L159.60,677.25 L160.60,675.68 L161.60,674.07 L162.60,672.43 L163.60,670.77 L164.60,669.09 L165.60,667.41 L166.60,665.73 L167.60,664.07 L168.60,662.43 L169.60,660.82 L170.60,659.25 L171.60,657.73 L172.60,656.27 L173.60,654.87 L174.60,653.55 L175.60,652.31 L176.60,651.16 L177.60,650.12 L178.60,649.18 L179.60,648.37 L180.60,647.68 L181.60,647.14 L182.60,646.73 L183.60,646.48 L184.60,646.40 L185.61,646.50 L186.62,646.78 L187.63,647.24 L188.63,647.86 L189.64,648.63 L190.65,649.54 L191.66,650.58 L192.67,651.74 L193.68,653.01 L194.69,654.37 L195.69,655.82 L196.70,657.34 L197.71,658.92 L198.72,660.55 L199.73,662.22 L200.74,663.92 L201.75,665.64 L202.75,667.36 L203.76,669.08 L204.77,670.78 L205.78,672.45 L206.79,674.08 L207.80,675.66 L208.81,677.18 L209.81,678.63 L210.82,679.99 L211.83,681.26 L212.84,682.42 L213.85,683.46 L214.86,684.37 L215.87,685.14 L216.87,685.76 L217.88,686.22 L218.89,686.50 L219.90,686.60 L220.92,686.46 L221.94,686.05 L222.97,685.38 L223.99,684.48 L225.01,683.37 L226.03,682.05 L227.05,680.55 L228.07,678.90 L229.10,677.09 L230.12,675.17 L231.14,673.13 L232.16,671.00 L233.18,668.80 L234.21,666.55 L235.23,664.26 L236.25,661.95 L237.27,659.64 L238.29,657.35 L239.32,655.10 L240.34,652.90 L241.36,650.77 L242.38,648.73 L243.40,646.81 L244.43,645.00 L245.45,643.35 L246.47,641.85 L247.49,640.53 L248.51,639.42 L249.53,638.52 L250.56,637.85 L251.58,637.44 L252.60,637.30 L253.62,637.47 L254.65,637.97 L255.67,638.78 L256.70,639.87 L257.72,641.22 L258.75,642.81 L259.77,644.62 L260.80,646.63 L261.82,648.81 L262.85,651.15 L263.88,653.61 L264.90,656.19 L265.93,658.85 L266.95,661.58 L267.97,664.36 L269.00,667.15 L270.02,669.94 L271.05,672.72 L272.07,675.45 L273.10,678.11 L274.12,680.69 L275.15,683.15 L276.17,685.49 L277.20,687.67 L278.22,689.68 L279.25,691.49 L280.27,693.08 L281.30,694.43 L282.32,695.52 L283.35,696.33 L284.38,696.83 L285.40,697.00 L286.44,696.82 L287.47,696.29 L288.51,695.46 L289.55,694.37 L290.58,693.06 L291.62,691.57 L292.66,689.93 L293.69,688.20 L294.73,686.41 L295.77,684.59 L296.81,682.80 L297.84,681.07 L298.88,679.43 L299.92,677.94 L300.95,676.63 L301.99,675.54 L303.03,674.71 L304.06,674.18 L305.10,674.00 L306.12,674.30 L307.14,675.15 L308.16,676.51 L309.18,678.33 L310.20,680.56 L311.23,683.14 L312.25,686.03 L313.27,689.17 L314.29,692.51 L315.31,696.01 L316.33,699.60 L317.35,703.25 L318.37,706.90 L319.39,710.49 L320.41,713.99 L321.43,717.33 L322.45,720.47 L323.48,723.36 L324.50,725.94 L325.52,728.17 L326.54,729.99 L327.56,731.35 L328.58,732.20 L329.60,732.50 L330.62,731.87 L331.65,730.01 L332.67,727.02 L333.69,722.96 L334.72,717.91 L335.74,711.94 L336.76,705.14 L337.79,697.57 L338.81,689.33 L339.84,680.47 L340.86,671.08 L341.88,661.23 L342.91,651.00 L343.93,640.47 L344.95,629.70 L345.98,618.79 L347.00,607.80 L348.02,596.81 L349.05,585.90 L350.07,575.13 L351.09,564.60 L352.12,554.37 L353.14,544.52 L354.16,535.13 L355.19,526.27 L356.21,518.03 L357.24,510.46 L358.26,503.66 L359.28,497.69 L360.31,492.64 L361.33,488.58 L362.35,485.59 L363.38,483.73 L364.40,483.10 L365.42,483.73 L366.45,485.59 L367.47,488.58 L368.49,492.64 L369.52,497.69 L370.54,503.66 L371.56,510.46 L372.59,518.03 L373.61,526.27 L374.64,535.13 L375.66,544.52 L376.68,554.37 L377.71,564.60 L378.73,575.13 L379.75,585.90 L380.78,596.81 L381.80,607.80 L382.82,618.79 L383.85,629.70 L384.87,640.47 L385.89,651.00 L386.92,661.23 L387.94,671.08 L388.96,680.47 L389.99,689.33 L391.01,697.57 L392.04,705.14 L393.06,711.94 L394.08,717.91 L395.11,722.96 L396.13,727.02 L397.15,730.01 L398.18,731.87 L399.20,732.50 L400.22,732.20 L401.24,731.35 L402.26,729.99 L403.28,728.17 L404.30,725.94 L405.32,723.36 L406.35,720.47 L407.37,717.33 L408.39,713.99 L409.41,710.49 L410.43,706.90 L411.45,703.25 L412.47,699.60 L413.49,696.01 L414.51,692.51 L415.53,689.17 L416.55,686.03 L417.57,683.14 L418.60,680.56 L419.62,678.33 L420.64,676.51 L421.66,675.15 L422.68,674.30 L423.70,674.00 L424.74,674.18 L425.77,674.71 L426.81,675.54 L427.85,676.63 L428.88,677.94 L429.92,679.43 L430.96,681.07 L431.99,682.80 L433.03,684.59 L434.07,686.41 L435.11,688.20 L436.14,689.93 L437.18,691.57 L438.22,693.06 L439.25,694.37 L440.29,695.46 L441.33,696.29 L442.36,696.82 L443.40,697.00 L444.42,696.83 L445.45,696.33 L446.47,695.52 L447.50,694.43 L448.52,693.08 L449.55,691.49 L450.57,689.68 L451.60,687.67 L452.62,685.49 L453.65,683.15 L454.67,680.69 L455.70,678.11 L456.72,675.45 L457.75,672.72 L458.77,669.94 L459.80,667.15 L460.82,664.36 L461.85,661.58 L462.87,658.85 L463.90,656.19 L464.92,653.61 L465.95,651.15 L466.97,648.81 L468.00,646.63 L469.02,644.62 L470.05,642.81 L471.07,641.22 L472.10,639.87 L473.12,638.78 L474.15,637.97 L475.17,637.47 L476.20,637.30 L477.22,637.44 L478.24,637.85 L479.27,638.52 L480.29,639.42 L481.31,640.53 L482.33,641.85 L483.35,643.35 L484.37,645.00 L485.40,646.81 L486.42,648.73 L487.44,650.77 L488.46,652.90 L489.48,655.10 L490.51,657.35 L491.53,659.64 L492.55,661.95 L493.57,664.26 L494.59,666.55 L495.62,668.80 L496.64,671.00 L497.66,673.13 L498.68,675.17 L499.70,677.09 L500.72,678.90 L501.75,680.55 L502.77,682.05 L503.79,683.37 L504.81,684.48 L505.83,685.38 L506.86,686.05 L507.88,686.46 L508.90,686.60 L509.91,686.50 L510.92,686.22 L511.93,685.76 L512.93,685.14 L513.94,684.37 L514.95,683.46 L515.96,682.42 L516.97,681.26 L517.98,679.99 L518.99,678.63 L519.99,677.18 L521.00,675.66 L522.01,674.08 L523.02,672.45 L524.03,670.78 L525.04,669.08 L526.05,667.36 L527.05,665.64 L528.06,663.92 L529.07,662.22 L530.08,660.55 L531.09,658.92 L532.10,657.34 L533.11,655.82 L534.11,654.37 L535.12,653.01 L536.13,651.74 L537.14,650.58 L538.15,649.54 L539.16,648.63 L540.17,647.86 L541.17,647.24 L542.18,646.78 L543.19,646.50 L544.20,646.40 L545.20,646.48 L546.20,646.73 L547.20,647.14 L548.20,647.68 L549.20,648.37 L550.20,649.18 L551.20,650.12 L552.20,651.16 L553.20,652.31 L554.20,653.55 L555.20,654.87 L556.20,656.27 L557.20,657.73 L558.20,659.25 L559.20,660.82 L560.20,662.43 L561.20,664.07 L562.20,665.73 L563.20,667.41 L564.20,669.09 L565.20,670.77 L566.20,672.43 L567.20,674.07 L568.20,675.68 L569.20,677.25 L570.20,678.77 L571.20,680.23 L572.20,681.63 L573.20,682.95 L574.20,684.19 L575.20,685.34 L576.20,686.38 L577.20,687.32 L578.20,688.13 L579.20,688.82 L580.20,689.36 L581.20,689.77 L582.20,690.02 L583.20,690.10 L584.20,690.05 L585.20,689.91 L586.21,689.67 L587.21,689.36 L588.21,688.96 L589.21,688.48 L590.22,687.94 L591.22,687.33 L592.22,686.66 L593.22,685.93 L594.23,685.15 L595.23,684.33 L596.23,683.46 L597.23,682.56 L598.24,681.63 L599.24,680.67 L600.24,679.69 L601.24,678.69 L602.25,677.68 L603.25,676.66 L604.25,675.64 L605.25,674.62 L606.26,673.61 L607.26,672.61 L608.26,671.63 L609.26,670.67 L610.27,669.74 L611.27,668.84 L612.27,667.97 L613.27,667.15 L614.28,666.37 L615.28,665.64 L616.28,664.97 L617.28,664.36 L618.29,663.82 L619.29,663.34 L620.29,662.94 L621.29,662.63 L622.30,662.39 L623.30,662.25 L624.30,662.20 L625.30,662.21 L626.30,662.25 L627.30,662.31 L628.30,662.38 L629.30,662.48 L630.30,662.59 L631.30,662.71 L632.30,662.84 L633.30,662.98 L634.30,663.13 L635.30,663.28 L636.30,663.42 L637.30,663.57 L638.30,663.72 L639.30,663.86 L640.30,663.99 L641.30,664.11 L642.30,664.22 L643.30,664.32 L644.30,664.39 L645.30,664.45 L646.30,664.49 L647.30,664.50 L648.30,664.49 L649.31,664.47 L650.31,664.43 L651.31,664.38 L652.32,664.32 L653.32,664.24 L654.32,664.15 L655.33,664.05 L656.33,663.94 L657.33,663.82 L658.34,663.68 L659.34,663.54 L660.34,663.39 L661.35,663.23 L662.35,663.06 L663.35,662.88 L664.35,662.69 L665.36,662.50 L666.36,662.30 L667.36,662.10 L668.37,661.89 L669.37,661.67 L670.37,661.45 L671.38,661.23 L672.38,661.00 L673.38,660.78 L674.39,660.54 L675.39,660.31 L676.39,660.07 L677.40,659.84 L678.40,659.60" stroke="#d43838" stroke-width="1.2" fill="none" stroke-linejoin="round"/>
<path d="M50.45,659.60 L51.45,660.09 L52.45,660.58 L53.45,661.06 L54.46,661.54 L55.46,662.02 L56.46,662.50 L57.46,662.96 L58.46,663.42 L59.46,663.87 L60.47,664.32 L61.47,664.75 L62.47,665.17 L63.47,665.58 L64.47,665.98 L65.47,666.36 L66.48,666.73 L67.48,667.08 L68.48,667.41 L69.48,667.72 L70.48,668.02 L71.48,668.29 L72.49,668.55 L73.49,668.78 L74.49,668.99 L75.49,669.17 L76.49,669.33 L77.49,669.46 L78.50,669.56 L79.50,669.64 L80.50,669.68 L81.50,669.70 L82.50,669.65 L83.50,669.52 L84.50,669.31 L85.50,669.02 L86.50,668.65 L87.50,668.22 L88.50,667.73 L89.50,667.18 L90.50,666.58 L91.50,665.93 L92.50,665.24 L93.50,664.51 L94.50,663.74 L95.50,662.96 L96.50,662.14 L97.50,661.32 L98.50,660.47 L99.50,659.63 L100.50,658.77 L101.50,657.93 L102.50,657.08 L103.50,656.26 L104.50,655.44 L105.50,654.66 L106.50,653.89 L107.50,653.16 L108.50,652.47 L109.50,651.82 L110.50,651.22 L111.50,650.67 L112.50,650.18 L113.50,649.75 L114.50,649.38 L115.50,649.09 L116.50,648.88 L117.50,648.75 L118.50,648.70 L119.50,648.75 L120.50,648.92 L121.50,649.17 L122.50,649.53 L123.50,649.96 L124.50,650.48 L125.50,651.07 L126.50,651.72 L127.50,652.44 L128.50,653.21 L129.50,654.02 L130.50,654.87 L131.50,655.76 L132.50,656.67 L133.50,657.60 L134.50,658.55 L135.50,659.50 L136.50,660.45 L137.50,661.40 L138.50,662.33 L139.50,663.24 L140.50,664.13 L141.50,664.98 L142.50,665.79 L143.50,666.56 L144.50,667.28 L145.50,667.93 L146.50,668.52 L147.50,669.04 L148.50,669.47 L149.50,669.83 L150.50,670.08 L151.50,670.25 L152.50,670.30 L153.52,670.24 L154.53,670.06 L155.55,669.77 L156.56,669.38 L157.58,668.89 L158.59,668.32 L159.61,667.67 L160.62,666.94 L161.64,666.16 L162.65,665.31 L163.67,664.41 L164.68,663.48 L165.70,662.51 L166.71,661.51 L167.73,660.49 L168.74,659.47 L169.76,658.43 L170.77,657.41 L171.79,656.39 L172.80,655.39 L173.82,654.42 L174.83,653.49 L175.85,652.59 L176.86,651.74 L177.88,650.96 L178.89,650.23 L179.91,649.58 L180.92,649.01 L181.94,648.52 L182.95,648.13 L183.97,647.84 L184.98,647.66 L186.00,647.60 L187.00,647.66 L188.00,647.85 L189.00,648.14 L190.00,648.54 L191.00,649.05 L192.00,649.64 L193.00,650.31 L194.00,651.07 L195.00,651.89 L196.00,652.77 L197.00,653.71 L198.00,654.70 L199.00,655.73 L200.00,656.79 L201.00,657.87 L202.00,658.98 L203.00,660.09 L204.00,661.21 L205.00,662.32 L206.00,663.43 L207.00,664.51 L208.00,665.57 L209.00,666.60 L210.00,667.59 L211.00,668.53 L212.00,669.41 L213.00,670.23 L214.00,670.99 L215.00,671.66 L216.00,672.25 L217.00,672.76 L218.00,673.16 L219.00,673.45 L220.00,673.64 L221.00,673.70 L222.01,673.59 L223.03,673.28 L224.04,672.78 L225.05,672.11 L226.07,671.28 L227.08,670.30 L228.09,669.19 L229.11,667.96 L230.12,666.64 L231.13,665.22 L232.15,663.73 L233.16,662.19 L234.17,660.60 L235.19,658.98 L236.20,657.35 L237.21,655.72 L238.23,654.10 L239.24,652.51 L240.25,650.97 L241.27,649.48 L242.28,648.06 L243.29,646.74 L244.31,645.51 L245.32,644.40 L246.33,643.42 L247.35,642.59 L248.36,641.92 L249.37,641.42 L250.39,641.11 L251.40,641.00 L252.40,641.15 L253.41,641.58 L254.41,642.28 L255.41,643.21 L256.42,644.36 L257.42,645.71 L258.43,647.23 L259.43,648.91 L260.43,650.72 L261.44,652.63 L262.44,654.64 L263.44,656.70 L264.45,658.82 L265.45,660.95 L266.45,663.08 L267.46,665.20 L268.46,667.26 L269.46,669.27 L270.47,671.18 L271.47,672.99 L272.48,674.67 L273.48,676.19 L274.48,677.54 L275.49,678.69 L276.49,679.62 L277.49,680.32 L278.50,680.75 L279.50,680.90 L280.51,680.65 L281.52,679.93 L282.53,678.77 L283.55,677.22 L284.56,675.32 L285.57,673.10 L286.58,670.60 L287.59,667.87 L288.60,664.95 L289.62,661.86 L290.63,658.66 L291.64,655.37 L292.65,652.05 L293.66,648.73 L294.67,645.44 L295.68,642.24 L296.70,639.15 L297.71,636.23 L298.72,633.50 L299.73,631.00 L300.74,628.78 L301.75,626.88 L302.77,625.33 L303.78,624.17 L304.79,623.45 L305.80,623.20 L306.82,623.61 L307.85,624.80 L308.87,626.73 L309.89,629.33 L310.91,632.55 L311.94,636.35 L312.96,640.65 L313.98,645.42 L315.00,650.59 L316.03,656.11 L317.05,661.93 L318.07,667.99 L319.09,674.24 L320.12,680.63 L321.14,687.10 L322.16,693.60 L323.18,700.07 L324.21,706.46 L325.23,712.71 L326.25,718.77 L327.27,724.59 L328.30,730.11 L329.32,735.28 L330.34,740.05 L331.36,744.35 L332.39,748.15 L333.41,751.37 L334.43,753.97 L335.45,755.90 L336.48,757.09 L337.50,757.50 L338.53,757.02 L339.57,755.64 L340.60,753.44 L341.64,750.48 L342.67,746.84 L343.71,742.60 L344.74,737.84 L345.78,732.62 L346.81,727.03 L347.85,721.13 L348.88,715.02 L349.92,708.75 L350.95,702.40 L351.98,696.05 L353.02,689.78 L354.05,683.67 L355.09,677.77 L356.12,672.18 L357.16,666.96 L358.19,662.20 L359.23,657.96 L360.26,654.32 L361.30,651.36 L362.33,649.16 L363.37,647.78 L364.40,647.30 L365.43,647.78 L366.47,649.16 L367.50,651.36 L368.54,654.32 L369.57,657.96 L370.61,662.20 L371.64,666.96 L372.68,672.18 L373.71,677.77 L374.75,683.67 L375.78,689.78 L376.82,696.05 L377.85,702.40 L378.88,708.75 L379.92,715.02 L380.95,721.13 L381.99,727.03 L383.02,732.62 L384.06,737.84 L385.09,742.60 L386.13,746.84 L387.16,750.48 L388.20,753.44 L389.23,755.64 L390.27,757.02 L391.30,757.50 L392.32,757.09 L393.35,755.90 L394.37,753.97 L395.39,751.37 L396.41,748.15 L397.44,744.35 L398.46,740.05 L399.48,735.28 L400.50,730.11 L401.53,724.59 L402.55,718.77 L403.57,712.71 L404.59,706.46 L405.62,700.07 L406.64,693.60 L407.66,687.10 L408.68,680.63 L409.71,674.24 L410.73,667.99 L411.75,661.93 L412.77,656.11 L413.80,650.59 L414.82,645.42 L415.84,640.65 L416.86,636.35 L417.89,632.55 L418.91,629.33 L419.93,626.73 L420.95,624.80 L421.98,623.61 L423.00,623.20 L424.01,623.45 L425.02,624.17 L426.03,625.33 L427.05,626.88 L428.06,628.78 L429.07,631.00 L430.08,633.50 L431.09,636.23 L432.10,639.15 L433.12,642.24 L434.13,645.44 L435.14,648.73 L436.15,652.05 L437.16,655.37 L438.17,658.66 L439.18,661.86 L440.20,664.95 L441.21,667.87 L442.22,670.60 L443.23,673.10 L444.24,675.32 L445.25,677.22 L446.27,678.77 L447.28,679.93 L448.29,680.65 L449.30,680.90 L450.30,680.75 L451.31,680.32 L452.31,679.62 L453.31,678.69 L454.32,677.54 L455.32,676.19 L456.32,674.67 L457.33,672.99 L458.33,671.18 L459.34,669.27 L460.34,667.26 L461.34,665.20 L462.35,663.08 L463.35,660.95 L464.35,658.82 L465.36,656.70 L466.36,654.64 L467.36,652.63 L468.37,650.72 L469.37,648.91 L470.38,647.23 L471.38,645.71 L472.38,644.36 L473.39,643.21 L474.39,642.28 L475.39,641.58 L476.40,641.15 L477.40,641.00 L478.41,641.11 L479.43,641.42 L480.44,641.92 L481.45,642.59 L482.47,643.42 L483.48,644.40 L484.49,645.51 L485.51,646.74 L486.52,648.06 L487.53,649.48 L488.55,650.97 L489.56,652.51 L490.57,654.10 L491.59,655.72 L492.60,657.35 L493.61,658.98 L494.63,660.60 L495.64,662.19 L496.65,663.73 L497.67,665.22 L498.68,666.64 L499.69,667.96 L500.71,669.19 L501.72,670.30 L502.73,671.28 L503.75,672.11 L504.76,672.78 L505.77,673.28 L506.79,673.59 L507.80,673.70 L508.80,673.64 L509.80,673.45 L510.80,673.16 L511.80,672.76 L512.80,672.25 L513.80,671.66 L514.80,670.99 L515.80,670.23 L516.80,669.41 L517.80,668.53 L518.80,667.59 L519.80,666.60 L520.80,665.57 L521.80,664.51 L522.80,663.43 L523.80,662.32 L524.80,661.21 L525.80,660.09 L526.80,658.98 L527.80,657.87 L528.80,656.79 L529.80,655.73 L530.80,654.70 L531.80,653.71 L532.80,652.77 L533.80,651.89 L534.80,651.07 L535.80,650.31 L536.80,649.64 L537.80,649.05 L538.80,648.54 L539.80,648.14 L540.80,647.85 L541.80,647.66 L542.80,647.60 L543.82,647.66 L544.83,647.84 L545.85,648.13 L546.86,648.52 L547.88,649.01 L548.89,649.58 L549.91,650.23 L550.92,650.96 L551.94,651.74 L552.95,652.59 L553.97,653.49 L554.98,654.42 L556.00,655.39 L557.01,656.39 L558.03,657.41 L559.04,658.43 L560.06,659.47 L561.07,660.49 L562.09,661.51 L563.10,662.51 L564.12,663.48 L565.13,664.41 L566.15,665.31 L567.16,666.16 L568.18,666.94 L569.19,667.67 L570.21,668.32 L571.22,668.89 L572.24,669.38 L573.25,669.77 L574.27,670.06 L575.28,670.24 L576.30,670.30 L577.30,670.25 L578.30,670.08 L579.30,669.83 L580.30,669.47 L581.30,669.04 L582.30,668.52 L583.30,667.93 L584.30,667.28 L585.30,666.56 L586.30,665.79 L587.30,664.98 L588.30,664.13 L589.30,663.24 L590.30,662.33 L591.30,661.40 L592.30,660.45 L593.30,659.50 L594.30,658.55 L595.30,657.60 L596.30,656.67 L597.30,655.76 L598.30,654.87 L599.30,654.02 L600.30,653.21 L601.30,652.44 L602.30,651.72 L603.30,651.07 L604.30,650.48 L605.30,649.96 L606.30,649.53 L607.30,649.17 L608.30,648.92 L609.30,648.75 L610.30,648.70 L611.30,648.75 L612.30,648.88 L613.30,649.09 L614.30,649.38 L615.30,649.75 L616.30,650.18 L617.30,650.67 L618.30,651.22 L619.30,651.82 L620.30,652.47 L621.30,653.16 L622.30,653.89 L623.30,654.66 L624.30,655.44 L625.30,656.26 L626.30,657.08 L627.30,657.93 L628.30,658.77 L629.30,659.63 L630.30,660.47 L631.30,661.32 L632.30,662.14 L633.30,662.96 L634.30,663.74 L635.30,664.51 L636.30,665.24 L637.30,665.93 L638.30,666.58 L639.30,667.18 L640.30,667.73 L641.30,668.22 L642.30,668.65 L643.30,669.02 L644.30,669.31 L645.30,669.52 L646.30,669.65 L647.30,669.70 L648.30,669.68 L649.31,669.64 L650.31,669.56 L651.31,669.46 L652.32,669.33 L653.32,669.17 L654.32,668.99 L655.33,668.78 L656.33,668.55 L657.33,668.29 L658.34,668.02 L659.34,667.72 L660.34,667.41 L661.35,667.08 L662.35,666.73 L663.35,666.36 L664.35,665.98 L665.36,665.58 L666.36,665.17 L667.36,664.75 L668.37,664.32 L669.37,663.87 L670.37,663.42 L671.38,662.96 L672.38,662.50 L673.38,662.02 L674.39,661.54 L675.39,661.06 L676.39,660.58 L677.40,660.09 L678.40,659.60" stroke="#3030c8" stroke-width="1.2" fill="none" stroke-linejoin="round"/>
<path d="M50.45,659.60 L51.48,659.94 L52.52,660.28 L53.55,660.62 L54.58,660.96 L55.61,661.29 L56.65,661.62 L57.68,661.94 L58.71,662.26 L59.74,662.57 L60.78,662.88 L61.81,663.18 L62.84,663.46 L63.88,663.74 L64.91,664.01 L65.94,664.26 L66.97,664.51 L68.01,664.74 L69.04,664.96 L70.07,665.16 L71.11,665.35 L72.14,665.52 L73.17,665.67 L74.20,665.81 L75.24,665.92 L76.27,666.02 L77.30,666.10 L78.33,666.15 L79.37,666.19 L80.40,666.20 L81.41,666.17 L82.42,666.07 L83.42,665.92 L84.43,665.71 L85.44,665.44 L86.45,665.13 L87.46,664.77 L88.46,664.38 L89.47,663.94 L90.48,663.47 L91.49,662.97 L92.50,662.44 L93.51,661.89 L94.51,661.32 L95.52,660.73 L96.53,660.13 L97.54,659.52 L98.55,658.91 L99.55,658.29 L100.56,657.68 L101.57,657.07 L102.58,656.47 L103.59,655.88 L104.59,655.31 L105.60,654.76 L106.61,654.23 L107.62,653.73 L108.63,653.26 L109.64,652.82 L110.64,652.43 L111.65,652.07 L112.66,651.76 L113.67,651.49 L114.68,651.28 L115.68,651.13 L116.69,651.03 L117.70,651.00 L118.73,651.06 L119.75,651.22 L120.78,651.49 L121.80,651.85 L122.83,652.30 L123.85,652.83 L124.88,653.43 L125.91,654.09 L126.93,654.81 L127.96,655.58 L128.98,656.39 L130.01,657.24 L131.04,658.11 L132.06,659.00 L133.09,659.90 L134.11,660.80 L135.14,661.70 L136.16,662.59 L137.19,663.46 L138.22,664.31 L139.24,665.12 L140.27,665.89 L141.29,666.61 L142.32,667.27 L143.35,667.87 L144.37,668.40 L145.40,668.85 L146.42,669.21 L147.45,669.48 L148.47,669.64 L149.50,669.70 L150.51,669.64 L151.53,669.48 L152.54,669.22 L153.56,668.86 L154.57,668.41 L155.59,667.88 L156.60,667.28 L157.61,666.60 L158.63,665.87 L159.64,665.08 L160.66,664.24 L161.67,663.36 L162.69,662.44 L163.70,661.50 L164.71,660.53 L165.73,659.54 L166.74,658.55 L167.76,657.55 L168.77,656.56 L169.79,655.57 L170.80,654.60 L171.81,653.66 L172.83,652.74 L173.84,651.86 L174.86,651.02 L175.87,650.23 L176.89,649.50 L177.90,648.82 L178.91,648.22 L179.93,647.69 L180.94,647.24 L181.96,646.88 L182.97,646.62 L183.99,646.46 L185.00,646.40 L186.03,646.47 L187.05,646.69 L188.08,647.05 L189.11,647.53 L190.13,648.12 L191.16,648.82 L192.19,649.63 L193.21,650.52 L194.24,651.49 L195.26,652.53 L196.29,653.64 L197.32,654.80 L198.34,656.01 L199.37,657.25 L200.40,658.52 L201.42,659.80 L202.45,661.10 L203.48,662.40 L204.50,663.68 L205.53,664.95 L206.56,666.19 L207.58,667.40 L208.61,668.56 L209.64,669.67 L210.66,670.71 L211.69,671.68 L212.71,672.57 L213.74,673.38 L214.77,674.08 L215.79,674.67 L216.82,675.15 L217.85,675.51 L218.87,675.73 L219.90,675.80 L220.90,675.67 L221.91,675.31 L222.91,674.71 L223.91,673.91 L224.92,672.93 L225.92,671.76 L226.92,670.45 L227.93,668.99 L228.93,667.42 L229.93,665.74 L230.94,663.98 L231.94,662.14 L232.94,660.26 L233.95,658.34 L234.95,656.40 L235.95,654.46 L236.96,652.54 L237.96,650.66 L238.96,648.82 L239.97,647.06 L240.97,645.38 L241.97,643.81 L242.98,642.35 L243.98,641.04 L244.98,639.87 L245.99,638.89 L246.99,638.09 L247.99,637.49 L249.00,637.13 L250.00,637.00 L251.02,637.17 L252.03,637.67 L253.05,638.47 L254.07,639.54 L255.09,640.88 L256.10,642.44 L257.12,644.20 L258.14,646.15 L259.16,648.25 L260.17,650.49 L261.19,652.83 L262.21,655.26 L263.22,657.75 L264.24,660.28 L265.26,662.82 L266.28,665.35 L267.29,667.84 L268.31,670.27 L269.33,672.61 L270.34,674.85 L271.36,676.95 L272.38,678.90 L273.40,680.66 L274.41,682.22 L275.43,683.56 L276.45,684.63 L277.47,685.43 L278.48,685.93 L279.50,686.10 L280.52,685.79 L281.54,684.89 L282.56,683.45 L283.58,681.50 L284.60,679.09 L285.62,676.27 L286.64,673.08 L287.67,669.56 L288.69,665.75 L289.71,661.71 L290.73,657.46 L291.75,653.07 L292.77,648.57 L293.79,644.00 L294.81,639.40 L295.83,634.83 L296.85,630.33 L297.87,625.94 L298.89,621.69 L299.91,617.65 L300.93,613.84 L301.96,610.32 L302.98,607.13 L304.00,604.31 L305.02,601.90 L306.04,599.95 L307.06,598.51 L308.08,597.61 L309.10,597.30 L310.11,597.69 L311.12,598.83 L312.13,600.66 L313.14,603.14 L314.15,606.22 L315.16,609.83 L316.17,613.93 L317.18,618.47 L318.19,623.40 L319.20,628.67 L320.21,634.21 L321.22,639.99 L322.23,645.95 L323.24,652.04 L324.25,658.20 L325.25,664.40 L326.26,670.56 L327.27,676.65 L328.28,682.61 L329.29,688.39 L330.30,693.93 L331.31,699.20 L332.32,704.13 L333.33,708.67 L334.34,712.77 L335.35,716.38 L336.36,719.46 L337.37,721.94 L338.38,723.77 L339.39,724.91 L340.40,725.30 L341.40,724.92 L342.40,723.82 L343.40,722.06 L344.40,719.72 L345.40,716.86 L346.40,713.53 L347.40,709.82 L348.40,705.78 L349.40,701.47 L350.40,696.98 L351.40,692.35 L352.40,687.65 L353.40,682.95 L354.40,678.32 L355.40,673.83 L356.40,669.52 L357.40,665.48 L358.40,661.77 L359.40,658.44 L360.40,655.58 L361.40,653.24 L362.40,651.48 L363.40,650.38 L364.40,650.00 L365.40,650.38 L366.40,651.48 L367.40,653.24 L368.40,655.58 L369.40,658.44 L370.40,661.77 L371.40,665.48 L372.40,669.52 L373.40,673.83 L374.40,678.32 L375.40,682.95 L376.40,687.65 L377.40,692.35 L378.40,696.98 L379.40,701.47 L380.40,705.78 L381.40,709.82 L382.40,713.53 L383.40,716.86 L384.40,719.72 L385.40,722.06 L386.40,723.82 L387.40,724.92 L388.40,725.30 L389.41,724.91 L390.42,723.77 L391.43,721.94 L392.44,719.46 L393.45,716.38 L394.46,712.77 L395.47,708.67 L396.48,704.13 L397.49,699.20 L398.50,693.93 L399.51,688.39 L400.52,682.61 L401.53,676.65 L402.54,670.56 L403.55,664.40 L404.55,658.20 L405.56,652.04 L406.57,645.95 L407.58,639.99 L408.59,634.21 L409.60,628.67 L410.61,623.40 L411.62,618.47 L412.63,613.93 L413.64,609.83 L414.65,606.22 L415.66,603.14 L416.67,600.66 L417.68,598.83 L418.69,597.69 L419.70,597.30 L420.72,597.61 L421.74,598.51 L422.76,599.95 L423.78,601.90 L424.80,604.31 L425.82,607.13 L426.84,610.32 L427.87,613.84 L428.89,617.65 L429.91,621.69 L430.93,625.94 L431.95,630.33 L432.97,634.83 L433.99,639.40 L435.01,644.00 L436.03,648.57 L437.05,653.07 L438.07,657.46 L439.09,661.71 L440.11,665.75 L441.13,669.56 L442.16,673.08 L443.18,676.27 L444.20,679.09 L445.22,681.50 L446.24,683.45 L447.26,684.89 L448.28,685.79 L449.30,686.10 L450.32,685.93 L451.33,685.43 L452.35,684.63 L453.37,683.56 L454.39,682.22 L455.40,680.66 L456.42,678.90 L457.44,676.95 L458.46,674.85 L459.47,672.61 L460.49,670.27 L461.51,667.84 L462.52,665.35 L463.54,662.82 L464.56,660.28 L465.58,657.75 L466.59,655.26 L467.61,652.83 L468.63,650.49 L469.64,648.25 L470.66,646.15 L471.68,644.20 L472.70,642.44 L473.71,640.88 L474.73,639.54 L475.75,638.47 L476.77,637.67 L477.78,637.17 L478.80,637.00 L479.80,637.13 L480.81,637.49 L481.81,638.09 L482.81,638.89 L483.82,639.87 L484.82,641.04 L485.82,642.35 L486.83,643.81 L487.83,645.38 L488.83,647.06 L489.84,648.82 L490.84,650.66 L491.84,652.54 L492.85,654.46 L493.85,656.40 L494.85,658.34 L495.86,660.26 L496.86,662.14 L497.86,663.98 L498.87,665.74 L499.87,667.42 L500.87,668.99 L501.88,670.45 L502.88,671.76 L503.88,672.93 L504.89,673.91 L505.89,674.71 L506.89,675.31 L507.90,675.67 L508.90,675.80 L509.93,675.73 L510.95,675.51 L511.98,675.15 L513.01,674.67 L514.03,674.08 L515.06,673.38 L516.09,672.57 L517.11,671.68 L518.14,670.71 L519.16,669.67 L520.19,668.56 L521.22,667.40 L522.24,666.19 L523.27,664.95 L524.30,663.68 L525.32,662.40 L526.35,661.10 L527.38,659.80 L528.40,658.52 L529.43,657.25 L530.46,656.01 L531.48,654.80 L532.51,653.64 L533.54,652.53 L534.56,651.49 L535.59,650.52 L536.61,649.63 L537.64,648.82 L538.67,648.12 L539.69,647.53 L540.72,647.05 L541.75,646.69 L542.77,646.47 L543.80,646.40 L544.81,646.46 L545.83,646.62 L546.84,646.88 L547.86,647.24 L548.87,647.69 L549.89,648.22 L550.90,648.82 L551.91,649.50 L552.93,650.23 L553.94,651.02 L554.96,651.86 L555.97,652.74 L556.99,653.66 L558.00,654.60 L559.01,655.57 L560.03,656.56 L561.04,657.55 L562.06,658.55 L563.07,659.54 L564.09,660.53 L565.10,661.50 L566.11,662.44 L567.13,663.36 L568.14,664.24 L569.16,665.08 L570.17,665.87 L571.19,666.60 L572.20,667.28 L573.21,667.88 L574.23,668.41 L575.24,668.86 L576.26,669.22 L577.27,669.48 L578.29,669.64 L579.30,669.70 L580.33,669.64 L581.35,669.48 L582.38,669.21 L583.40,668.85 L584.43,668.40 L585.45,667.87 L586.48,667.27 L587.51,666.61 L588.53,665.89 L589.56,665.12 L590.58,664.31 L591.61,663.46 L592.64,662.59 L593.66,661.70 L594.69,660.80 L595.71,659.90 L596.74,659.00 L597.76,658.11 L598.79,657.24 L599.82,656.39 L600.84,655.58 L601.87,654.81 L602.89,654.09 L603.92,653.43 L604.95,652.83 L605.97,652.30 L607.00,651.85 L608.02,651.49 L609.05,651.22 L610.07,651.06 L611.10,651.00 L612.11,651.03 L613.12,651.13 L614.12,651.28 L615.13,651.49 L616.14,651.76 L617.15,652.07 L618.16,652.43 L619.16,652.82 L620.17,653.26 L621.18,653.73 L622.19,654.23 L623.20,654.76 L624.21,655.31 L625.21,655.88 L626.22,656.47 L627.23,657.07 L628.24,657.68 L629.25,658.29 L630.25,658.91 L631.26,659.52 L632.27,660.13 L633.28,660.73 L634.29,661.32 L635.29,661.89 L636.30,662.44 L637.31,662.97 L638.32,663.47 L639.33,663.94 L640.34,664.38 L641.34,664.77 L642.35,665.13 L643.36,665.44 L644.37,665.71 L645.38,665.92 L646.38,666.07 L647.39,666.17 L648.40,666.20 L649.40,666.19 L650.40,666.16 L651.40,666.10 L652.40,666.03 L653.40,665.94 L654.40,665.83 L655.40,665.70 L656.40,665.56 L657.40,665.40 L658.40,665.22 L659.40,665.03 L660.40,664.83 L661.40,664.61 L662.40,664.38 L663.40,664.14 L664.40,663.88 L665.40,663.62 L666.40,663.35 L667.40,663.07 L668.40,662.78 L669.40,662.48 L670.40,662.18 L671.40,661.87 L672.40,661.55 L673.40,661.23 L674.40,660.91 L675.40,660.59 L676.40,660.26 L677.40,659.93 L678.40,659.60" stroke="#222222" stroke-width="1.2" fill="none" stroke-linejoin="round"/>
<path d="M50.45,659.60 L51.48,659.88 L52.52,660.16 L53.55,660.43 L54.58,660.71 L55.61,660.98 L56.65,661.25 L57.68,661.52 L58.71,661.78 L59.74,662.03 L60.78,662.28 L61.81,662.53 L62.84,662.76 L63.88,662.99 L64.91,663.21 L65.94,663.42 L66.97,663.62 L68.01,663.80 L69.04,663.98 L70.07,664.15 L71.11,664.30 L72.14,664.44 L73.17,664.57 L74.20,664.68 L75.24,664.77 L76.27,664.85 L77.30,664.92 L78.33,664.96 L79.37,664.99 L80.40,665.00 L81.42,664.97 L82.44,664.89 L83.47,664.75 L84.49,664.56 L85.51,664.33 L86.53,664.05 L87.56,663.74 L88.58,663.38 L89.60,663.00 L90.62,662.59 L91.64,662.15 L92.67,661.68 L93.69,661.20 L94.71,660.70 L95.73,660.19 L96.76,659.66 L97.78,659.13 L98.80,658.60 L99.82,658.07 L100.84,657.54 L101.87,657.01 L102.89,656.50 L103.91,656.00 L104.93,655.52 L105.96,655.05 L106.98,654.61 L108.00,654.20 L109.02,653.82 L110.04,653.46 L111.07,653.15 L112.09,652.87 L113.11,652.64 L114.13,652.45 L115.16,652.31 L116.18,652.23 L117.20,652.20 L118.21,652.25 L119.22,652.39 L120.23,652.62 L121.24,652.93 L122.25,653.31 L123.26,653.76 L124.27,654.27 L125.28,654.84 L126.28,655.46 L127.29,656.12 L128.30,656.82 L129.31,657.55 L130.32,658.30 L131.33,659.07 L132.34,659.86 L133.35,660.65 L134.36,661.44 L135.37,662.23 L136.38,663.00 L137.39,663.75 L138.40,664.48 L139.41,665.18 L140.42,665.84 L141.43,666.46 L142.43,667.03 L143.44,667.54 L144.45,667.99 L145.46,668.37 L146.47,668.68 L147.48,668.91 L148.49,669.05 L149.50,669.10 L150.51,669.04 L151.53,668.86 L152.54,668.58 L153.56,668.20 L154.57,667.72 L155.59,667.15 L156.60,666.51 L157.62,665.80 L158.63,665.01 L159.65,664.18 L160.66,663.29 L161.68,662.36 L162.69,661.39 L163.71,660.39 L164.72,659.37 L165.74,658.34 L166.75,657.30 L167.76,656.26 L168.78,655.23 L169.79,654.21 L170.81,653.21 L171.82,652.24 L172.84,651.31 L173.85,650.42 L174.87,649.59 L175.88,648.80 L176.90,648.09 L177.91,647.45 L178.93,646.88 L179.94,646.40 L180.96,646.02 L181.97,645.74 L182.99,645.56 L184.00,645.50 L185.03,645.57 L186.05,645.79 L187.08,646.14 L188.10,646.61 L189.13,647.20 L190.15,647.89 L191.18,648.68 L192.21,649.57 L193.23,650.53 L194.26,651.57 L195.28,652.67 L196.31,653.82 L197.33,655.03 L198.36,656.27 L199.39,657.54 L200.41,658.84 L201.44,660.14 L202.46,661.46 L203.49,662.76 L204.51,664.06 L205.54,665.33 L206.57,666.57 L207.59,667.78 L208.62,668.93 L209.64,670.03 L210.67,671.07 L211.69,672.03 L212.72,672.92 L213.75,673.71 L214.77,674.40 L215.80,674.99 L216.82,675.46 L217.85,675.81 L218.87,676.03 L219.90,676.10 L220.90,675.96 L221.91,675.56 L222.91,674.91 L223.91,674.04 L224.92,672.97 L225.92,671.70 L226.92,670.28 L227.93,668.70 L228.93,667.00 L229.93,665.19 L230.94,663.30 L231.94,661.33 L232.94,659.32 L233.95,657.28 L234.95,655.22 L235.96,653.18 L236.96,651.17 L237.96,649.20 L238.97,647.31 L239.97,645.50 L240.97,643.80 L241.98,642.22 L242.98,640.80 L243.98,639.53 L244.99,638.46 L245.99,637.59 L246.99,636.94 L248.00,636.54 L249.00,636.40 L250.02,636.57 L251.03,637.05 L252.05,637.83 L253.07,638.87 L254.08,640.17 L255.10,641.69 L256.12,643.42 L257.13,645.33 L258.15,647.39 L259.17,649.60 L260.18,651.91 L261.20,654.32 L262.22,656.79 L263.23,659.31 L264.25,661.85 L265.27,664.39 L266.28,666.91 L267.30,669.38 L268.32,671.79 L269.33,674.10 L270.35,676.31 L271.37,678.37 L272.38,680.28 L273.40,682.01 L274.42,683.53 L275.43,684.83 L276.45,685.87 L277.47,686.65 L278.48,687.13 L279.50,687.30 L280.52,686.97 L281.54,686.01 L282.56,684.46 L283.58,682.38 L284.60,679.80 L285.62,676.78 L286.64,673.37 L287.67,669.60 L288.69,665.53 L289.71,661.20 L290.73,656.66 L291.75,651.96 L292.77,647.14 L293.79,642.26 L294.81,637.34 L295.83,632.46 L296.85,627.64 L297.87,622.94 L298.89,618.40 L299.91,614.07 L300.93,610.00 L301.96,606.23 L302.98,602.82 L304.00,599.80 L305.02,597.22 L306.04,595.14 L307.06,593.59 L308.08,592.63 L309.10,592.30 L310.12,592.71 L311.14,593.90 L312.16,595.82 L313.18,598.42 L314.20,601.64 L315.22,605.43 L316.24,609.72 L317.25,614.48 L318.27,619.65 L319.29,625.16 L320.31,630.97 L321.33,637.03 L322.35,643.27 L323.37,649.65 L324.39,656.11 L325.41,662.59 L326.43,669.05 L327.45,675.43 L328.47,681.67 L329.49,687.73 L330.51,693.54 L331.53,699.05 L332.55,704.22 L333.56,708.98 L334.58,713.27 L335.60,717.06 L336.62,720.28 L337.64,722.88 L338.66,724.80 L339.68,725.99 L340.70,726.40 L341.73,726.05 L342.76,725.05 L343.79,723.45 L344.82,721.31 L345.85,718.71 L346.88,715.71 L347.91,712.36 L348.94,708.72 L349.97,704.87 L351.00,700.87 L352.03,696.77 L353.07,692.63 L354.10,688.53 L355.13,684.53 L356.16,680.68 L357.19,677.04 L358.22,673.69 L359.25,670.69 L360.28,668.09 L361.31,665.95 L362.34,664.35 L363.37,663.35 L364.40,663.00 L365.43,663.35 L366.46,664.35 L367.49,665.95 L368.52,668.09 L369.55,670.69 L370.58,673.69 L371.61,677.04 L372.64,680.68 L373.67,684.53 L374.70,688.53 L375.73,692.63 L376.77,696.77 L377.80,700.87 L378.83,704.87 L379.86,708.72 L380.89,712.36 L381.92,715.71 L382.95,718.71 L383.98,721.31 L385.01,723.45 L386.04,725.05 L387.07,726.05 L388.10,726.40 L389.12,725.99 L390.14,724.80 L391.16,722.88 L392.18,720.28 L393.20,717.06 L394.22,713.27 L395.24,708.98 L396.25,704.22 L397.27,699.05 L398.29,693.54 L399.31,687.73 L400.33,681.67 L401.35,675.43 L402.37,669.05 L403.39,662.59 L404.41,656.11 L405.43,649.65 L406.45,643.27 L407.47,637.03 L408.49,630.97 L409.51,625.16 L410.53,619.65 L411.55,614.48 L412.56,609.72 L413.58,605.43 L414.60,601.64 L415.62,598.42 L416.64,595.82 L417.66,593.90 L418.68,592.71 L419.70,592.30 L420.72,592.63 L421.74,593.59 L422.76,595.14 L423.78,597.22 L424.80,599.80 L425.82,602.82 L426.84,606.23 L427.87,610.00 L428.89,614.07 L429.91,618.40 L430.93,622.94 L431.95,627.64 L432.97,632.46 L433.99,637.34 L435.01,642.26 L436.03,647.14 L437.05,651.96 L438.07,656.66 L439.09,661.20 L440.11,665.53 L441.13,669.60 L442.16,673.37 L443.18,676.78 L444.20,679.80 L445.22,682.38 L446.24,684.46 L447.26,686.01 L448.28,686.97 L449.30,687.30 L450.32,687.13 L451.33,686.65 L452.35,685.87 L453.37,684.83 L454.38,683.53 L455.40,682.01 L456.42,680.28 L457.43,678.37 L458.45,676.31 L459.47,674.10 L460.48,671.79 L461.50,669.38 L462.52,666.91 L463.53,664.39 L464.55,661.85 L465.57,659.31 L466.58,656.79 L467.60,654.32 L468.62,651.91 L469.63,649.60 L470.65,647.39 L471.67,645.33 L472.68,643.42 L473.70,641.69 L474.72,640.17 L475.73,638.87 L476.75,637.83 L477.77,637.05 L478.78,636.57 L479.80,636.40 L480.80,636.54 L481.81,636.94 L482.81,637.59 L483.81,638.46 L484.82,639.53 L485.82,640.80 L486.82,642.22 L487.83,643.80 L488.83,645.50 L489.83,647.31 L490.84,649.20 L491.84,651.17 L492.84,653.18 L493.85,655.22 L494.85,657.28 L495.86,659.32 L496.86,661.33 L497.86,663.30 L498.87,665.19 L499.87,667.00 L500.87,668.70 L501.88,670.28 L502.88,671.70 L503.88,672.97 L504.89,674.04 L505.89,674.91 L506.89,675.56 L507.90,675.96 L508.90,676.10 L509.93,676.03 L510.95,675.81 L511.98,675.46 L513.00,674.99 L514.03,674.40 L515.05,673.71 L516.08,672.92 L517.11,672.03 L518.13,671.07 L519.16,670.03 L520.18,668.93 L521.21,667.78 L522.23,666.57 L523.26,665.33 L524.29,664.06 L525.31,662.76 L526.34,661.46 L527.36,660.14 L528.39,658.84 L529.41,657.54 L530.44,656.27 L531.47,655.03 L532.49,653.82 L533.52,652.67 L534.54,651.57 L535.57,650.53 L536.59,649.57 L537.62,648.68 L538.65,647.89 L539.67,647.20 L540.70,646.61 L541.72,646.14 L542.75,645.79 L543.77,645.57 L544.80,645.50 L545.81,645.56 L546.83,645.74 L547.84,646.02 L548.86,646.40 L549.87,646.88 L550.89,647.45 L551.90,648.09 L552.92,648.80 L553.93,649.59 L554.95,650.42 L555.96,651.31 L556.98,652.24 L557.99,653.21 L559.01,654.21 L560.02,655.23 L561.04,656.26 L562.05,657.30 L563.06,658.34 L564.08,659.37 L565.09,660.39 L566.11,661.39 L567.12,662.36 L568.14,663.29 L569.15,664.18 L570.17,665.01 L571.18,665.80 L572.20,666.51 L573.21,667.15 L574.23,667.72 L575.24,668.20 L576.26,668.58 L577.27,668.86 L578.29,669.04 L579.30,669.10 L580.31,669.05 L581.32,668.91 L582.33,668.68 L583.34,668.37 L584.35,667.99 L585.36,667.54 L586.37,667.03 L587.38,666.46 L588.38,665.84 L589.39,665.18 L590.40,664.48 L591.41,663.75 L592.42,663.00 L593.43,662.23 L594.44,661.44 L595.45,660.65 L596.46,659.86 L597.47,659.07 L598.48,658.30 L599.49,657.55 L600.50,656.82 L601.51,656.12 L602.52,655.46 L603.52,654.84 L604.53,654.27 L605.54,653.76 L606.55,653.31 L607.56,652.93 L608.57,652.62 L609.58,652.39 L610.59,652.25 L611.60,652.20 L612.62,652.23 L613.64,652.31 L614.67,652.45 L615.69,652.64 L616.71,652.87 L617.73,653.15 L618.76,653.46 L619.78,653.82 L620.80,654.20 L621.82,654.61 L622.84,655.05 L623.87,655.52 L624.89,656.00 L625.91,656.50 L626.93,657.01 L627.96,657.54 L628.98,658.07 L630.00,658.60 L631.02,659.13 L632.04,659.66 L633.07,660.19 L634.09,660.70 L635.11,661.20 L636.13,661.68 L637.16,662.15 L638.18,662.59 L639.20,663.00 L640.22,663.38 L641.24,663.74 L642.27,664.05 L643.29,664.33 L644.31,664.56 L645.33,664.75 L646.36,664.89 L647.38,664.97 L648.40,665.00 L649.40,664.99 L650.40,664.96 L651.40,664.92 L652.40,664.86 L653.40,664.79 L654.40,664.70 L655.40,664.59 L656.40,664.48 L657.40,664.34 L658.40,664.20 L659.40,664.04 L660.40,663.88 L661.40,663.70 L662.40,663.51 L663.40,663.31 L664.40,663.11 L665.40,662.89 L666.40,662.67 L667.40,662.44 L668.40,662.20 L669.40,661.96 L670.40,661.71 L671.40,661.46 L672.40,661.20 L673.40,660.94 L674.40,660.67 L675.40,660.41 L676.40,660.14 L677.40,659.87 L678.40,659.60" stroke="#f0ee48" stroke-width="1.2" fill="none" stroke-linejoin="round"/>
<path d="M50.45,659.60 L51.47,659.40 L52.48,659.20 L53.50,659.01 L54.51,658.81 L55.53,658.61 L56.55,658.42 L57.56,658.23 L58.58,658.04 L59.60,657.85 L60.61,657.67 L61.63,657.49 L62.64,657.32 L63.66,657.14 L64.68,656.98 L65.69,656.82 L66.71,656.66 L67.72,656.51 L68.74,656.36 L69.76,656.22 L70.77,656.09 L71.79,655.96 L72.81,655.84 L73.82,655.73 L74.84,655.63 L75.85,655.53 L76.87,655.44 L77.89,655.37 L78.90,655.30 L79.92,655.24 L80.94,655.19 L81.95,655.15 L82.97,655.12 L83.98,655.11 L85.00,655.10 L86.00,655.11 L87.00,655.14 L88.00,655.19 L89.00,655.25 L90.00,655.34 L91.00,655.43 L92.00,655.54 L93.00,655.67 L94.00,655.80 L95.00,655.95 L96.00,656.10 L97.00,656.27 L98.00,656.44 L99.00,656.61 L100.00,656.79 L101.00,656.98 L102.00,657.16 L103.00,657.35 L104.00,657.54 L105.00,657.72 L106.00,657.91 L107.00,658.09 L108.00,658.26 L109.00,658.43 L110.00,658.60 L111.00,658.75 L112.00,658.90 L113.00,659.03 L114.00,659.16 L115.00,659.27 L116.00,659.36 L117.00,659.45 L118.00,659.51 L119.00,659.56 L120.00,659.59 L121.00,659.60 L122.01,659.59 L123.03,659.55 L124.04,659.50 L125.06,659.43 L126.07,659.33 L127.09,659.23 L128.10,659.10 L129.11,658.96 L130.13,658.81 L131.14,658.65 L132.16,658.48 L133.17,658.29 L134.19,658.11 L135.20,657.91 L136.21,657.71 L137.23,657.51 L138.24,657.30 L139.26,657.10 L140.27,656.89 L141.29,656.69 L142.30,656.49 L143.31,656.29 L144.33,656.11 L145.34,655.92 L146.36,655.75 L147.37,655.59 L148.39,655.44 L149.40,655.30 L150.41,655.17 L151.43,655.07 L152.44,654.97 L153.46,654.90 L154.47,654.85 L155.49,654.81 L156.50,654.80 L157.50,654.81 L158.50,654.84 L159.50,654.90 L160.50,654.97 L161.50,655.06 L162.50,655.17 L163.50,655.29 L164.50,655.43 L165.50,655.58 L166.50,655.74 L167.50,655.92 L168.50,656.10 L169.50,656.29 L170.50,656.48 L171.50,656.68 L172.50,656.89 L173.50,657.09 L174.50,657.30 L175.50,657.51 L176.50,657.71 L177.50,657.92 L178.50,658.12 L179.50,658.31 L180.50,658.50 L181.50,658.68 L182.50,658.86 L183.50,659.02 L184.50,659.17 L185.50,659.31 L186.50,659.43 L187.50,659.54 L188.50,659.63 L189.50,659.70 L190.50,659.76 L191.50,659.79 L192.50,659.80 L193.53,659.78 L194.56,659.73 L195.59,659.65 L196.62,659.54 L197.65,659.41 L198.68,659.25 L199.71,659.07 L200.74,658.87 L201.77,658.66 L202.80,658.43 L203.83,658.18 L204.86,657.93 L205.89,657.68 L206.92,657.41 L207.95,657.15 L208.98,656.89 L210.01,656.62 L211.04,656.37 L212.07,656.12 L213.10,655.87 L214.13,655.64 L215.16,655.43 L216.19,655.23 L217.22,655.05 L218.25,654.89 L219.28,654.76 L220.31,654.65 L221.34,654.57 L222.37,654.52 L223.40,654.50 L224.42,654.51 L225.44,654.56 L226.46,654.62 L227.47,654.71 L228.49,654.83 L229.51,654.96 L230.53,655.11 L231.55,655.28 L232.57,655.46 L233.59,655.66 L234.61,655.87 L235.62,656.08 L236.64,656.31 L237.66,656.53 L238.68,656.77 L239.70,657.00 L240.72,657.23 L241.74,657.47 L242.76,657.69 L243.78,657.92 L244.79,658.13 L245.81,658.34 L246.83,658.54 L247.85,658.72 L248.87,658.89 L249.89,659.04 L250.91,659.17 L251.93,659.29 L252.94,659.38 L253.96,659.44 L254.98,659.49 L256.00,659.50 L257.02,659.49 L258.03,659.45 L259.05,659.38 L260.07,659.29 L261.08,659.18 L262.10,659.05 L263.12,658.91 L264.13,658.75 L265.15,658.57 L266.17,658.39 L267.18,658.19 L268.20,657.99 L269.22,657.78 L270.23,657.56 L271.25,657.35 L272.27,657.14 L273.28,656.92 L274.30,656.71 L275.32,656.51 L276.33,656.31 L277.35,656.13 L278.37,655.95 L279.38,655.79 L280.40,655.65 L281.42,655.52 L282.43,655.41 L283.45,655.32 L284.47,655.25 L285.48,655.21 L286.50,655.20 L287.51,655.21 L288.51,655.24 L289.52,655.30 L290.53,655.37 L291.53,655.46 L292.54,655.57 L293.55,655.68 L294.56,655.81 L295.56,655.96 L296.57,656.11 L297.58,656.26 L298.58,656.43 L299.59,656.59 L300.60,656.76 L301.60,656.94 L302.61,657.11 L303.62,657.27 L304.62,657.44 L305.63,657.59 L306.64,657.74 L307.64,657.89 L308.65,658.02 L309.66,658.13 L310.67,658.24 L311.67,658.33 L312.68,658.40 L313.69,658.46 L314.69,658.49 L315.70,658.50 L316.71,658.49 L317.72,658.47 L318.74,658.44 L319.75,658.39 L320.76,658.33 L321.77,658.27 L322.79,658.19 L323.80,658.11 L324.81,658.03 L325.82,657.94 L326.84,657.84 L327.85,657.75 L328.86,657.66 L329.88,657.56 L330.89,657.47 L331.90,657.39 L332.91,657.31 L333.93,657.23 L334.94,657.17 L335.95,657.11 L336.96,657.06 L337.98,657.03 L338.99,657.01 L340.00,657.00 L341.02,657.00 L342.03,657.01 L343.05,657.01 L344.07,657.02 L345.08,657.03 L346.10,657.05 L347.12,657.06 L348.13,657.08 L349.15,657.09 L350.17,657.11 L351.18,657.13 L352.20,657.15 L353.22,657.17 L354.23,657.19 L355.25,657.21 L356.27,657.22 L357.28,657.24 L358.30,657.25 L359.32,657.27 L360.33,657.28 L361.35,657.29 L362.37,657.29 L363.38,657.30 L364.40,657.30 L365.42,657.30 L366.43,657.29 L367.45,657.29 L368.47,657.28 L369.48,657.27 L370.50,657.25 L371.52,657.24 L372.53,657.22 L373.55,657.21 L374.57,657.19 L375.58,657.17 L376.60,657.15 L377.62,657.13 L378.63,657.11 L379.65,657.09 L380.67,657.08 L381.68,657.06 L382.70,657.05 L383.72,657.03 L384.73,657.02 L385.75,657.01 L386.77,657.01 L387.78,657.00 L388.80,657.00 L389.81,657.01 L390.82,657.03 L391.84,657.06 L392.85,657.11 L393.86,657.17 L394.87,657.23 L395.89,657.31 L396.90,657.39 L397.91,657.47 L398.92,657.56 L399.94,657.66 L400.95,657.75 L401.96,657.84 L402.97,657.94 L403.99,658.03 L405.00,658.11 L406.01,658.19 L407.02,658.27 L408.04,658.33 L409.05,658.39 L410.06,658.44 L411.07,658.47 L412.09,658.49 L413.10,658.50 L414.11,658.49 L415.11,658.46 L416.12,658.40 L417.13,658.33 L418.13,658.24 L419.14,658.13 L420.15,658.02 L421.16,657.89 L422.16,657.74 L423.17,657.59 L424.18,657.44 L425.18,657.27 L426.19,657.11 L427.20,656.94 L428.20,656.76 L429.21,656.59 L430.22,656.43 L431.22,656.26 L432.23,656.11 L433.24,655.96 L434.24,655.81 L435.25,655.68 L436.26,655.57 L437.27,655.46 L438.27,655.37 L439.28,655.30 L440.29,655.24 L441.29,655.21 L442.30,655.20 L443.32,655.21 L444.33,655.25 L445.35,655.32 L446.37,655.41 L447.38,655.52 L448.40,655.65 L449.42,655.79 L450.43,655.95 L451.45,656.13 L452.47,656.31 L453.48,656.51 L454.50,656.71 L455.52,656.92 L456.53,657.14 L457.55,657.35 L458.57,657.56 L459.58,657.78 L460.60,657.99 L461.62,658.19 L462.63,658.39 L463.65,658.57 L464.67,658.75 L465.68,658.91 L466.70,659.05 L467.72,659.18 L468.73,659.29 L469.75,659.38 L470.77,659.45 L471.78,659.49 L472.80,659.50 L473.82,659.49 L474.84,659.44 L475.86,659.38 L476.87,659.29 L477.89,659.17 L478.91,659.04 L479.93,658.89 L480.95,658.72 L481.97,658.54 L482.99,658.34 L484.01,658.13 L485.02,657.92 L486.04,657.69 L487.06,657.47 L488.08,657.23 L489.10,657.00 L490.12,656.77 L491.14,656.53 L492.16,656.31 L493.17,656.08 L494.19,655.87 L495.21,655.66 L496.23,655.46 L497.25,655.28 L498.27,655.11 L499.29,654.96 L500.31,654.83 L501.32,654.71 L502.34,654.62 L503.36,654.56 L504.38,654.51 L505.40,654.50 L506.43,654.52 L507.46,654.57 L508.49,654.65 L509.52,654.76 L510.55,654.89 L511.58,655.05 L512.61,655.23 L513.64,655.43 L514.67,655.64 L515.70,655.87 L516.73,656.12 L517.76,656.37 L518.79,656.62 L519.82,656.89 L520.85,657.15 L521.88,657.41 L522.91,657.68 L523.94,657.93 L524.97,658.18 L526.00,658.43 L527.03,658.66 L528.06,658.87 L529.09,659.07 L530.12,659.25 L531.15,659.41 L532.18,659.54 L533.21,659.65 L534.24,659.73 L535.27,659.78 L536.30,659.80 L537.30,659.79 L538.30,659.76 L539.30,659.70 L540.30,659.63 L541.30,659.54 L542.30,659.43 L543.30,659.31 L544.30,659.17 L545.30,659.02 L546.30,658.86 L547.30,658.68 L548.30,658.50 L549.30,658.31 L550.30,658.12 L551.30,657.92 L552.30,657.71 L553.30,657.51 L554.30,657.30 L555.30,657.09 L556.30,656.89 L557.30,656.68 L558.30,656.48 L559.30,656.29 L560.30,656.10 L561.30,655.92 L562.30,655.74 L563.30,655.58 L564.30,655.43 L565.30,655.29 L566.30,655.17 L567.30,655.06 L568.30,654.97 L569.30,654.90 L570.30,654.84 L571.30,654.81 L572.30,654.80 L573.31,654.81 L574.33,654.85 L575.34,654.90 L576.36,654.97 L577.37,655.07 L578.39,655.17 L579.40,655.30 L580.41,655.44 L581.43,655.59 L582.44,655.75 L583.46,655.92 L584.47,656.11 L585.49,656.29 L586.50,656.49 L587.51,656.69 L588.53,656.89 L589.54,657.10 L590.56,657.30 L591.57,657.51 L592.59,657.71 L593.60,657.91 L594.61,658.11 L595.63,658.29 L596.64,658.48 L597.66,658.65 L598.67,658.81 L599.69,658.96 L600.70,659.10 L601.71,659.23 L602.73,659.33 L603.74,659.43 L604.76,659.50 L605.77,659.55 L606.79,659.59 L607.80,659.60 L608.80,659.59 L609.80,659.56 L610.80,659.51 L611.80,659.45 L612.80,659.36 L613.80,659.27 L614.80,659.16 L615.80,659.03 L616.80,658.90 L617.80,658.75 L618.80,658.60 L619.80,658.43 L620.80,658.26 L621.80,658.09 L622.80,657.91 L623.80,657.72 L624.80,657.54 L625.80,657.35 L626.80,657.16 L627.80,656.98 L628.80,656.79 L629.80,656.61 L630.80,656.44 L631.80,656.27 L632.80,656.10 L633.80,655.95 L634.80,655.80 L635.80,655.67 L636.80,655.54 L637.80,655.43 L638.80,655.34 L639.80,655.25 L640.80,655.19 L641.80,655.14 L642.80,655.11 L643.80,655.10 L644.82,655.11 L645.84,655.12 L646.85,655.15 L647.87,655.19 L648.89,655.24 L649.91,655.30 L650.92,655.37 L651.94,655.44 L652.96,655.53 L653.98,655.63 L654.99,655.73 L656.01,655.84 L657.03,655.96 L658.05,656.09 L659.06,656.22 L660.08,656.36 L661.10,656.51 L662.12,656.66 L663.14,656.82 L664.15,656.98 L665.17,657.14 L666.19,657.32 L667.21,657.49 L668.22,657.67 L669.24,657.85 L670.26,658.04 L671.28,658.23 L672.29,658.42 L673.31,658.61 L674.33,658.81 L675.35,659.01 L676.36,659.20 L677.38,659.40 L678.40,659.60" stroke="#dc48dc" stroke-width="1.2" fill="none" stroke-linejoin="round"/>
<path d="M50.45,659.60 L51.47,660.13 L52.49,660.67 L53.51,661.20 L54.52,661.73 L55.54,662.25 L56.56,662.77 L57.58,663.28 L58.60,663.78 L59.62,664.27 L60.63,664.75 L61.65,665.22 L62.67,665.68 L63.69,666.12 L64.71,666.55 L65.72,666.96 L66.74,667.35 L67.76,667.72 L68.78,668.07 L69.80,668.41 L70.82,668.71 L71.84,669.00 L72.85,669.26 L73.87,669.49 L74.89,669.70 L75.91,669.88 L76.93,670.03 L77.94,670.14 L78.96,670.23 L79.98,670.28 L81.00,670.30 L82.02,670.27 L83.03,670.18 L84.05,670.03 L85.07,669.83 L86.09,669.59 L87.10,669.29 L88.12,668.96 L89.14,668.59 L90.15,668.18 L91.17,667.74 L92.19,667.28 L93.21,666.79 L94.22,666.28 L95.24,665.76 L96.26,665.22 L97.27,664.68 L98.29,664.13 L99.31,663.57 L100.33,663.02 L101.34,662.48 L102.36,661.94 L103.38,661.42 L104.39,660.91 L105.41,660.42 L106.43,659.96 L107.45,659.52 L108.46,659.11 L109.48,658.74 L110.50,658.41 L111.51,658.11 L112.53,657.87 L113.55,657.67 L114.57,657.52 L115.58,657.43 L116.60,657.40 L117.63,657.45 L118.66,657.59 L119.68,657.82 L120.71,658.13 L121.74,658.52 L122.77,658.97 L123.80,659.48 L124.82,660.06 L125.85,660.68 L126.88,661.34 L127.91,662.05 L128.94,662.78 L129.97,663.54 L130.99,664.31 L132.02,665.10 L133.05,665.90 L134.08,666.70 L135.11,667.49 L136.13,668.26 L137.16,669.02 L138.19,669.75 L139.22,670.46 L140.25,671.12 L141.28,671.74 L142.30,672.32 L143.33,672.83 L144.36,673.28 L145.39,673.67 L146.42,673.98 L147.44,674.21 L148.47,674.35 L149.50,674.40 L150.51,674.34 L151.53,674.16 L152.54,673.87 L153.56,673.48 L154.57,673.00 L155.59,672.42 L156.60,671.77 L157.62,671.04 L158.63,670.25 L159.65,669.39 L160.66,668.49 L161.68,667.54 L162.69,666.56 L163.71,665.54 L164.72,664.51 L165.74,663.46 L166.75,662.40 L167.76,661.34 L168.78,660.29 L169.79,659.26 L170.81,658.24 L171.82,657.26 L172.84,656.31 L173.85,655.41 L174.87,654.55 L175.88,653.76 L176.90,653.03 L177.91,652.38 L178.93,651.80 L179.94,651.32 L180.96,650.93 L181.97,650.64 L182.99,650.46 L184.00,650.40 L185.01,650.48 L186.02,650.72 L187.03,651.10 L188.03,651.62 L189.04,652.26 L190.05,653.02 L191.06,653.89 L192.07,654.86 L193.08,655.92 L194.09,657.06 L195.09,658.27 L196.10,659.54 L197.11,660.86 L198.12,662.23 L199.13,663.62 L200.14,665.05 L201.15,666.48 L202.15,667.92 L203.16,669.35 L204.17,670.78 L205.18,672.17 L206.19,673.54 L207.20,674.86 L208.21,676.13 L209.21,677.34 L210.22,678.48 L211.23,679.54 L212.24,680.51 L213.25,681.38 L214.26,682.14 L215.27,682.78 L216.27,683.30 L217.28,683.68 L218.29,683.92 L219.30,684.00 L220.33,683.84 L221.36,683.39 L222.39,682.66 L223.42,681.67 L224.45,680.44 L225.48,679.01 L226.51,677.38 L227.54,675.58 L228.57,673.63 L229.60,671.56 L230.63,669.37 L231.66,667.10 L232.69,664.77 L233.72,662.40 L234.75,660.00 L235.78,657.60 L236.81,655.23 L237.84,652.90 L238.87,650.63 L239.90,648.44 L240.93,646.37 L241.96,644.42 L242.99,642.62 L244.02,640.99 L245.05,639.56 L246.08,638.33 L247.11,637.34 L248.14,636.61 L249.17,636.16 L250.20,636.00 L251.22,636.21 L252.25,636.81 L253.27,637.77 L254.29,639.08 L255.31,640.69 L256.34,642.60 L257.36,644.76 L258.38,647.15 L259.40,649.74 L260.43,652.52 L261.45,655.44 L262.47,658.48 L263.49,661.62 L264.52,664.82 L265.54,668.07 L266.56,671.33 L267.58,674.58 L268.61,677.78 L269.63,680.92 L270.65,683.96 L271.67,686.88 L272.70,689.66 L273.72,692.25 L274.74,694.64 L275.76,696.80 L276.79,698.71 L277.81,700.32 L278.83,701.63 L279.85,702.59 L280.88,703.19 L281.90,703.40 L282.92,703.08 L283.94,702.15 L284.95,700.66 L285.97,698.65 L286.99,696.17 L288.01,693.27 L289.02,689.99 L290.04,686.39 L291.06,682.51 L292.08,678.39 L293.10,674.08 L294.11,669.63 L295.13,665.09 L296.15,660.50 L297.17,655.91 L298.19,651.37 L299.20,646.92 L300.22,642.61 L301.24,638.49 L302.26,634.61 L303.27,631.01 L304.29,627.73 L305.31,624.83 L306.33,622.35 L307.35,620.34 L308.36,618.85 L309.38,617.92 L310.40,617.60 L311.40,617.98 L312.41,619.08 L313.41,620.85 L314.41,623.23 L315.42,626.15 L316.42,629.56 L317.43,633.41 L318.43,637.64 L319.43,642.18 L320.44,646.98 L321.44,651.98 L322.44,657.13 L323.45,662.37 L324.45,667.63 L325.46,672.87 L326.46,678.02 L327.46,683.02 L328.47,687.82 L329.47,692.36 L330.47,696.59 L331.48,700.44 L332.48,703.85 L333.49,706.77 L334.49,709.15 L335.49,710.92 L336.50,712.02 L337.50,712.40 L338.53,711.99 L339.57,710.82 L340.60,708.93 L341.64,706.41 L342.67,703.31 L343.71,699.69 L344.74,695.63 L345.78,691.18 L346.81,686.41 L347.85,681.38 L348.88,676.16 L349.92,670.81 L350.95,665.40 L351.98,659.99 L353.02,654.64 L354.05,649.42 L355.09,644.39 L356.12,639.62 L357.16,635.17 L358.19,631.11 L359.23,627.49 L360.26,624.39 L361.30,621.87 L362.33,619.98 L363.37,618.81 L364.40,618.40 L365.43,618.81 L366.47,619.98 L367.50,621.87 L368.54,624.39 L369.57,627.49 L370.61,631.11 L371.64,635.17 L372.68,639.62 L373.71,644.39 L374.75,649.42 L375.78,654.64 L376.82,659.99 L377.85,665.40 L378.88,670.81 L379.92,676.16 L380.95,681.38 L381.99,686.41 L383.02,691.18 L384.06,695.63 L385.09,699.69 L386.13,703.31 L387.16,706.41 L388.20,708.93 L389.23,710.82 L390.27,711.99 L391.30,712.40 L392.30,712.02 L393.31,710.92 L394.31,709.15 L395.31,706.77 L396.32,703.85 L397.32,700.44 L398.33,696.59 L399.33,692.36 L400.33,687.82 L401.34,683.02 L402.34,678.02 L403.34,672.87 L404.35,667.63 L405.35,662.37 L406.36,657.13 L407.36,651.98 L408.36,646.98 L409.37,642.18 L410.37,637.64 L411.37,633.41 L412.38,629.56 L413.38,626.15 L414.39,623.23 L415.39,620.85 L416.39,619.08 L417.40,617.98 L418.40,617.60 L419.42,617.92 L420.44,618.85 L421.45,620.34 L422.47,622.35 L423.49,624.83 L424.51,627.73 L425.52,631.01 L426.54,634.61 L427.56,638.49 L428.58,642.61 L429.60,646.92 L430.61,651.37 L431.63,655.91 L432.65,660.50 L433.67,665.09 L434.69,669.63 L435.70,674.08 L436.72,678.39 L437.74,682.51 L438.76,686.39 L439.77,689.99 L440.79,693.27 L441.81,696.17 L442.83,698.65 L443.85,700.66 L444.86,702.15 L445.88,703.08 L446.90,703.40 L447.92,703.19 L448.95,702.59 L449.97,701.63 L450.99,700.32 L452.01,698.71 L453.04,696.80 L454.06,694.64 L455.08,692.25 L456.10,689.66 L457.13,686.88 L458.15,683.96 L459.17,680.92 L460.19,677.78 L461.22,674.58 L462.24,671.33 L463.26,668.07 L464.28,664.82 L465.31,661.62 L466.33,658.48 L467.35,655.44 L468.37,652.52 L469.40,649.74 L470.42,647.15 L471.44,644.76 L472.46,642.60 L473.49,640.69 L474.51,639.08 L475.53,637.77 L476.55,636.81 L477.58,636.21 L478.60,636.00 L479.63,636.16 L480.66,636.61 L481.69,637.34 L482.72,638.33 L483.75,639.56 L484.78,640.99 L485.81,642.62 L486.84,644.42 L487.87,646.37 L488.90,648.44 L489.93,650.63 L490.96,652.90 L491.99,655.23 L493.02,657.60 L494.05,660.00 L495.08,662.40 L496.11,664.77 L497.14,667.10 L498.17,669.37 L499.20,671.56 L500.23,673.63 L501.26,675.58 L502.29,677.38 L503.32,679.01 L504.35,680.44 L505.38,681.67 L506.41,682.66 L507.44,683.39 L508.47,683.84 L509.50,684.00 L510.51,683.92 L511.52,683.68 L512.53,683.30 L513.53,682.78 L514.54,682.14 L515.55,681.38 L516.56,680.51 L517.57,679.54 L518.58,678.48 L519.59,677.34 L520.59,676.13 L521.60,674.86 L522.61,673.54 L523.62,672.17 L524.63,670.78 L525.64,669.35 L526.65,667.92 L527.65,666.48 L528.66,665.05 L529.67,663.62 L530.68,662.23 L531.69,660.86 L532.70,659.54 L533.71,658.27 L534.71,657.06 L535.72,655.92 L536.73,654.86 L537.74,653.89 L538.75,653.02 L539.76,652.26 L540.77,651.62 L541.77,651.10 L542.78,650.72 L543.79,650.48 L544.80,650.40 L545.81,650.46 L546.83,650.64 L547.84,650.93 L548.86,651.32 L549.87,651.80 L550.89,652.38 L551.90,653.03 L552.92,653.76 L553.93,654.55 L554.95,655.41 L555.96,656.31 L556.98,657.26 L557.99,658.24 L559.01,659.26 L560.02,660.29 L561.04,661.34 L562.05,662.40 L563.06,663.46 L564.08,664.51 L565.09,665.54 L566.11,666.56 L567.12,667.54 L568.14,668.49 L569.15,669.39 L570.17,670.25 L571.18,671.04 L572.20,671.77 L573.21,672.42 L574.23,673.00 L575.24,673.48 L576.26,673.87 L577.27,674.16 L578.29,674.34 L579.30,674.40 L580.33,674.35 L581.36,674.21 L582.38,673.98 L583.41,673.67 L584.44,673.28 L585.47,672.83 L586.50,672.32 L587.52,671.74 L588.55,671.12 L589.58,670.46 L590.61,669.75 L591.64,669.02 L592.67,668.26 L593.69,667.49 L594.72,666.70 L595.75,665.90 L596.78,665.10 L597.81,664.31 L598.83,663.54 L599.86,662.78 L600.89,662.05 L601.92,661.34 L602.95,660.68 L603.97,660.06 L605.00,659.48 L606.03,658.97 L607.06,658.52 L608.09,658.13 L609.12,657.82 L610.14,657.59 L611.17,657.45 L612.20,657.40 L613.22,657.43 L614.23,657.52 L615.25,657.67 L616.27,657.87 L617.29,658.11 L618.30,658.41 L619.32,658.74 L620.34,659.11 L621.35,659.52 L622.37,659.96 L623.39,660.42 L624.41,660.91 L625.42,661.42 L626.44,661.94 L627.46,662.48 L628.47,663.02 L629.49,663.57 L630.51,664.13 L631.53,664.68 L632.54,665.22 L633.56,665.76 L634.58,666.28 L635.59,666.79 L636.61,667.28 L637.63,667.74 L638.65,668.18 L639.66,668.59 L640.68,668.96 L641.70,669.29 L642.71,669.59 L643.73,669.83 L644.75,670.03 L645.77,670.18 L646.78,670.27 L647.80,670.30 L648.82,670.28 L649.84,670.23 L650.86,670.14 L651.88,670.03 L652.90,669.88 L653.92,669.70 L654.94,669.49 L655.96,669.26 L656.98,669.00 L658.00,668.71 L659.02,668.41 L660.04,668.07 L661.06,667.72 L662.08,667.35 L663.10,666.96 L664.12,666.55 L665.14,666.12 L666.16,665.68 L667.18,665.22 L668.20,664.75 L669.22,664.27 L670.24,663.78 L671.26,663.28 L672.28,662.77 L673.30,662.25 L674.32,661.73 L675.34,661.20 L676.36,660.67 L677.38,660.13 L678.40,659.60" stroke="#48dae2" stroke-width="1.2" fill="none" stroke-linejoin="round"/>
<path d="M113.5,773.5v-6.4M113.5,432.5v6.4M176.5,773.5v-6.4M176.5,432.5v6.4M238.5,773.5v-6.4M238.5,432.5v6.4M301.5,773.5v-6.4M301.5,432.5v6.4M364.5,773.5v-6.4M364.5,432.5v6.4M427.5,773.5v-6.4M427.5,432.5v6.4M490.5,773.5v-6.4M490.5,432.5v6.4M552.5,773.5v-6.4M552.5,432.5v6.4M615.5,773.5v-6.4M615.5,432.5v6.4M50.5,432.5h6.4M678.5,432.5h-6.4M50.5,489.5h6.4M678.5,489.5h-6.4M50.5,545.5h6.4M678.5,545.5h-6.4M50.5,602.5h6.4M678.5,602.5h-6.4M50.5,659.5h6.4M678.5,659.5h-6.4M50.5,716.5h6.4M678.5,716.5h-6.4M50.5,773.5h6.4M678.5,773.5h-6.4" stroke="#6e6e6e" stroke-width="1" fill="none"/>
<path d="M50.5,432.0V774.0" stroke="#828282" stroke-width="1"/>
<path d="M50.0,773.5H679.0" stroke="#626262" stroke-width="1"/>
<path d="M50.0,432.5H679.0" stroke="#686868" stroke-width="1"/>
<path d="M678.5,432.5V773.5" stroke="#9a9a9a" stroke-width="1.2"/>
<text x="46.7" y="435.89" text-anchor="end" class="tk">1.008</text>
<text x="46.7" y="492.72" text-anchor="end" class="tk">1.006</text>
<text x="46.7" y="549.54" text-anchor="end" class="tk">1.004</text>
<text x="46.7" y="606.37" text-anchor="end" class="tk">1.002</text>
<text x="46.7" y="663.20" text-anchor="end" class="tk">1</text>
<text x="46.7" y="720.03" text-anchor="end" class="tk">0.998</text>
<text x="46.7" y="776.86" text-anchor="end" class="tk">0.996</text>
<text x="50.50" y="785.9" text-anchor="middle" class="tk">0</text>
<text x="113.30" y="785.9" text-anchor="middle" class="tk">0.1</text>
<text x="176.10" y="785.9" text-anchor="middle" class="tk">0.2</text>
<text x="238.90" y="785.9" text-anchor="middle" class="tk">0.3</text>
<text x="301.70" y="785.9" text-anchor="middle" class="tk">0.4</text>
<text x="364.50" y="785.9" text-anchor="middle" class="tk">0.5</text>
<text x="427.30" y="785.9" text-anchor="middle" class="tk">0.6</text>
<text x="490.10" y="785.9" text-anchor="middle" class="tk">0.7</text>
<text x="552.90" y="785.9" text-anchor="middle" class="tk">0.8</text>
<text x="615.70" y="785.9" text-anchor="middle" class="tk">0.9</text>
<text x="678.50" y="785.9" text-anchor="middle" class="tk">1</text>
<text x="364.20" y="799.3" text-anchor="middle" class="lb">Normalized Frequency</text>
<text transform="translate(11.2,603.00) rotate(-90)" text-anchor="middle" class="lb">Amplitude of Distortion Function</text>
<rect x="467.5" y="436.5" width="206.90" height="120.50" fill="#fff" stroke="#5a5a5a" stroke-width="1"/>
<path d="M481,446.40H497.6" stroke="#d83838" stroke-width="1.2"/>
<text x="499.5" y="449.30" class="lg">Steepest Descent Method, 2006 [19]</text>
<path d="M481,463.23H497.6" stroke="#3a3aa8" stroke-width="1.2"/>
<text x="499.5" y="466.13" class="lg">PSO Algorithm, 2010 [42]</text>
<path d="M481,480.06H497.6" stroke="#303030" stroke-width="1.2"/>
<text x="499.5" y="482.96" class="lg">LM Optimization, 2011 [36]</text>
<path d="M481,496.89H497.6" stroke="#f0e860" stroke-width="1.2"/>
<text x="499.5" y="499.79" class="lg">ABC Algorithm, 2015 [20]</text>
<path d="M481,513.72H497.6" stroke="#e050e0" stroke-width="1.2"/>
<text x="499.5" y="516.62" class="lg">HBC Algorithm, 2021 [55]</text>
<path d="M481,530.55H497.6" stroke="#40d040" stroke-width="1.2"/>
<text x="499.5" y="533.45" class="lg">SMO Algorithm, 2023 [38]</text>
<path d="M481,547.38H497.6" stroke="#40d8e0" stroke-width="1.2"/>
<text x="499.5" y="550.28" class="lg">D-GWO Algorithm, 2024 [17]</text>
<text x="367" y="826.6" text-anchor="middle" class="cap">(b)</text>
</svg>
</body></html>
